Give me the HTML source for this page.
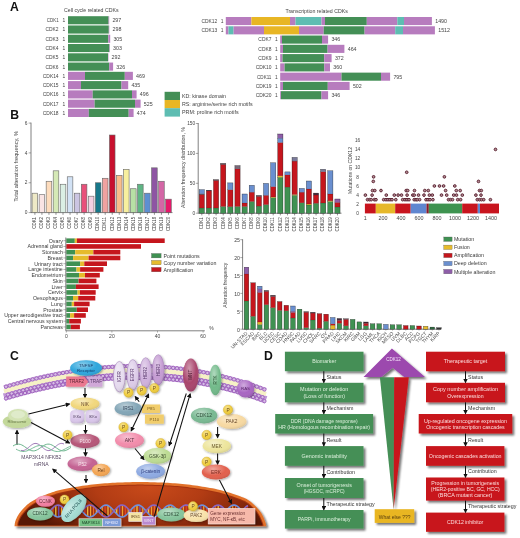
<!DOCTYPE html>
<html><head><meta charset="utf-8"><style>
html,body{margin:0;padding:0;background:#fff;}
svg{display:block;font-family:'Liberation Sans', Arial, sans-serif;}
</style></head><body>
<svg width="520" height="538" viewBox="0 0 520 538">
<rect width="520" height="538" fill="#fff"/>
<text x="10.00" y="11.40" font-size="12.2" text-anchor="start" fill="#111" font-weight="bold">A</text>
<text x="64.00" y="11.90" font-size="5.2" text-anchor="start" fill="#444444" font-weight="normal">Cell cycle related CDKs</text>
<text x="285.40" y="12.90" font-size="5.22" text-anchor="start" fill="#444444" font-weight="normal">Transcription related CDKs</text>
<text x="58.60" y="22.15" font-size="4.9" text-anchor="end" fill="#444444" font-weight="normal" textLength="11.80" lengthAdjust="spacingAndGlyphs">CDK1</text>
<text x="62.50" y="22.15" font-size="4.9" text-anchor="start" fill="#444444" font-weight="normal">1</text>
<rect x="68.00" y="16.20" width="40.60" height="8.10" fill="#448f56"/>
<rect x="108.60" y="16.20" width="0.60" height="8.10" fill="#b77cbe"/>
<text x="112.40" y="22.15" font-size="5.3" text-anchor="start" fill="#444444" font-weight="normal">297</text>
<text x="58.60" y="31.42" font-size="4.9" text-anchor="end" fill="#444444" font-weight="normal">CDK2</text>
<text x="62.50" y="31.42" font-size="4.9" text-anchor="start" fill="#444444" font-weight="normal">1</text>
<rect x="68.00" y="25.47" width="40.80" height="8.10" fill="#448f56"/>
<rect x="108.80" y="25.47" width="0.50" height="8.10" fill="#b77cbe"/>
<text x="112.50" y="31.42" font-size="5.3" text-anchor="start" fill="#444444" font-weight="normal">298</text>
<text x="58.60" y="40.69" font-size="4.9" text-anchor="end" fill="#444444" font-weight="normal">CDK3</text>
<text x="62.50" y="40.69" font-size="4.9" text-anchor="start" fill="#444444" font-weight="normal">1</text>
<rect x="68.00" y="34.74" width="40.30" height="8.10" fill="#448f56"/>
<rect x="108.30" y="34.74" width="1.90" height="8.10" fill="#b77cbe"/>
<text x="113.40" y="40.69" font-size="5.3" text-anchor="start" fill="#444444" font-weight="normal">305</text>
<text x="58.60" y="49.96" font-size="4.9" text-anchor="end" fill="#444444" font-weight="normal">CDK4</text>
<text x="62.50" y="49.96" font-size="4.9" text-anchor="start" fill="#444444" font-weight="normal">1</text>
<rect x="68.00" y="44.01" width="41.40" height="8.10" fill="#448f56"/>
<rect x="109.40" y="44.01" width="0.50" height="8.10" fill="#b77cbe"/>
<text x="113.10" y="49.96" font-size="5.3" text-anchor="start" fill="#444444" font-weight="normal">303</text>
<text x="58.60" y="59.23" font-size="4.9" text-anchor="end" fill="#444444" font-weight="normal">CDK5</text>
<text x="62.50" y="59.23" font-size="4.9" text-anchor="start" fill="#444444" font-weight="normal">1</text>
<rect x="68.00" y="53.28" width="40.00" height="8.10" fill="#448f56"/>
<rect x="108.00" y="53.28" width="0.40" height="8.10" fill="#b77cbe"/>
<text x="111.60" y="59.23" font-size="5.3" text-anchor="start" fill="#444444" font-weight="normal">292</text>
<text x="58.60" y="68.50" font-size="4.9" text-anchor="end" fill="#444444" font-weight="normal">CDK6</text>
<text x="62.50" y="68.50" font-size="4.9" text-anchor="start" fill="#444444" font-weight="normal">1</text>
<rect x="68.00" y="62.55" width="41.20" height="8.10" fill="#448f56"/>
<rect x="109.20" y="62.55" width="3.90" height="8.10" fill="#b77cbe"/>
<text x="116.30" y="68.50" font-size="5.3" text-anchor="start" fill="#444444" font-weight="normal">326</text>
<text x="58.60" y="77.77" font-size="4.9" text-anchor="end" fill="#444444" font-weight="normal">CDK14</text>
<text x="62.50" y="77.77" font-size="4.9" text-anchor="start" fill="#444444" font-weight="normal">1</text>
<rect x="68.00" y="71.82" width="17.00" height="8.10" fill="#b77cbe"/>
<rect x="85.00" y="71.82" width="39.80" height="8.10" fill="#448f56"/>
<rect x="124.80" y="71.82" width="8.10" height="8.10" fill="#b77cbe"/>
<text x="136.10" y="77.77" font-size="5.3" text-anchor="start" fill="#444444" font-weight="normal">469</text>
<text x="58.60" y="87.04" font-size="4.9" text-anchor="end" fill="#444444" font-weight="normal">CDK15</text>
<text x="62.50" y="87.04" font-size="4.9" text-anchor="start" fill="#444444" font-weight="normal">1</text>
<rect x="68.00" y="81.09" width="13.00" height="8.10" fill="#b77cbe"/>
<rect x="81.00" y="81.09" width="40.50" height="8.10" fill="#448f56"/>
<rect x="121.50" y="81.09" width="6.70" height="8.10" fill="#b77cbe"/>
<text x="131.40" y="87.04" font-size="5.3" text-anchor="start" fill="#444444" font-weight="normal">435</text>
<text x="58.60" y="96.31" font-size="4.9" text-anchor="end" fill="#444444" font-weight="normal">CDK16</text>
<text x="62.50" y="96.31" font-size="4.9" text-anchor="start" fill="#444444" font-weight="normal">1</text>
<rect x="68.00" y="90.36" width="24.70" height="8.10" fill="#b77cbe"/>
<rect x="92.70" y="90.36" width="39.30" height="8.10" fill="#448f56"/>
<rect x="132.00" y="90.36" width="4.60" height="8.10" fill="#b77cbe"/>
<text x="139.80" y="96.31" font-size="5.3" text-anchor="start" fill="#444444" font-weight="normal">496</text>
<text x="58.60" y="105.58" font-size="4.9" text-anchor="end" fill="#444444" font-weight="normal">CDK17</text>
<text x="62.50" y="105.58" font-size="4.9" text-anchor="start" fill="#444444" font-weight="normal">1</text>
<rect x="68.00" y="99.63" width="26.60" height="8.10" fill="#b77cbe"/>
<rect x="94.60" y="99.63" width="40.40" height="8.10" fill="#448f56"/>
<rect x="135.00" y="99.63" width="5.60" height="8.10" fill="#b77cbe"/>
<text x="143.80" y="105.58" font-size="5.3" text-anchor="start" fill="#444444" font-weight="normal">525</text>
<text x="58.60" y="114.85" font-size="4.9" text-anchor="end" fill="#444444" font-weight="normal">CDK18</text>
<text x="62.50" y="114.85" font-size="4.9" text-anchor="start" fill="#444444" font-weight="normal">1</text>
<rect x="68.00" y="108.90" width="20.80" height="8.10" fill="#b77cbe"/>
<rect x="88.80" y="108.90" width="39.90" height="8.10" fill="#448f56"/>
<rect x="128.70" y="108.90" width="4.90" height="8.10" fill="#b77cbe"/>
<text x="136.80" y="114.85" font-size="5.3" text-anchor="start" fill="#444444" font-weight="normal">474</text>
<text x="217.20" y="22.95" font-size="4.9" text-anchor="end" fill="#444444" font-weight="normal">CDK12</text>
<text x="220.80" y="22.95" font-size="4.9" text-anchor="start" fill="#444444" font-weight="normal">1</text>
<rect x="225.80" y="17.00" width="25.60" height="8.10" fill="#b77cbe"/>
<rect x="251.40" y="17.00" width="38.60" height="8.10" fill="#e8b624"/>
<rect x="290.00" y="17.00" width="5.50" height="8.10" fill="#b77cbe"/>
<rect x="295.50" y="17.00" width="26.00" height="8.10" fill="#5ebdb2"/>
<rect x="321.50" y="17.00" width="3.50" height="8.10" fill="#b77cbe"/>
<rect x="325.00" y="17.00" width="41.80" height="8.10" fill="#448f56"/>
<rect x="366.80" y="17.00" width="30.50" height="8.10" fill="#b77cbe"/>
<rect x="397.30" y="17.00" width="6.70" height="8.10" fill="#5ebdb2"/>
<rect x="404.00" y="17.00" width="27.90" height="8.10" fill="#b77cbe"/>
<text x="435.20" y="22.95" font-size="5.3" text-anchor="start" fill="#444444" font-weight="normal">1490</text>
<text x="217.20" y="32.22" font-size="4.9" text-anchor="end" fill="#444444" font-weight="normal">CDK13</text>
<text x="220.80" y="32.22" font-size="4.9" text-anchor="start" fill="#444444" font-weight="normal">1</text>
<rect x="225.80" y="26.27" width="2.70" height="8.10" fill="#b77cbe"/>
<rect x="228.50" y="26.27" width="5.10" height="8.10" fill="#5ebdb2"/>
<rect x="233.60" y="26.27" width="30.40" height="8.10" fill="#b77cbe"/>
<rect x="264.00" y="26.27" width="35.00" height="8.10" fill="#e8b624"/>
<rect x="299.00" y="26.27" width="24.70" height="8.10" fill="#b77cbe"/>
<rect x="323.70" y="26.27" width="40.90" height="8.10" fill="#448f56"/>
<rect x="364.60" y="26.27" width="30.60" height="8.10" fill="#b77cbe"/>
<rect x="395.20" y="26.27" width="7.80" height="8.10" fill="#5ebdb2"/>
<rect x="403.00" y="26.27" width="31.90" height="8.10" fill="#b77cbe"/>
<text x="438.20" y="32.22" font-size="5.3" text-anchor="start" fill="#444444" font-weight="normal">1512</text>
<text x="271.40" y="41.49" font-size="4.9" text-anchor="end" fill="#444444" font-weight="normal">CDK7</text>
<text x="275.00" y="41.49" font-size="4.9" text-anchor="start" fill="#444444" font-weight="normal">1</text>
<rect x="280.20" y="35.54" width="1.80" height="8.10" fill="#b77cbe"/>
<rect x="282.00" y="35.54" width="40.00" height="8.10" fill="#448f56"/>
<rect x="322.00" y="35.54" width="6.10" height="8.10" fill="#b77cbe"/>
<text x="331.40" y="41.49" font-size="5.3" text-anchor="start" fill="#444444" font-weight="normal">346</text>
<text x="271.40" y="50.76" font-size="4.9" text-anchor="end" fill="#444444" font-weight="normal">CDK8</text>
<text x="275.00" y="50.76" font-size="4.9" text-anchor="start" fill="#444444" font-weight="normal">1</text>
<rect x="280.20" y="44.81" width="2.80" height="8.10" fill="#b77cbe"/>
<rect x="283.00" y="44.81" width="44.60" height="8.10" fill="#448f56"/>
<rect x="327.60" y="44.81" width="16.80" height="8.10" fill="#b77cbe"/>
<text x="347.70" y="50.76" font-size="5.3" text-anchor="start" fill="#444444" font-weight="normal">464</text>
<text x="271.40" y="60.03" font-size="4.9" text-anchor="end" fill="#444444" font-weight="normal">CDK9</text>
<text x="275.00" y="60.03" font-size="4.9" text-anchor="start" fill="#444444" font-weight="normal">1</text>
<rect x="280.20" y="54.08" width="2.30" height="8.10" fill="#b77cbe"/>
<rect x="282.50" y="54.08" width="41.70" height="8.10" fill="#448f56"/>
<rect x="324.20" y="54.08" width="7.40" height="8.10" fill="#b77cbe"/>
<text x="334.90" y="60.03" font-size="5.3" text-anchor="start" fill="#444444" font-weight="normal">372</text>
<text x="271.40" y="69.30" font-size="4.9" text-anchor="end" fill="#444444" font-weight="normal">CDK10</text>
<text x="275.00" y="69.30" font-size="4.9" text-anchor="start" fill="#444444" font-weight="normal">1</text>
<rect x="280.20" y="63.35" width="4.40" height="8.10" fill="#b77cbe"/>
<rect x="284.60" y="63.35" width="39.70" height="8.10" fill="#448f56"/>
<rect x="324.30" y="63.35" width="5.70" height="8.10" fill="#b77cbe"/>
<text x="333.30" y="69.30" font-size="5.3" text-anchor="start" fill="#444444" font-weight="normal">360</text>
<text x="271.40" y="78.57" font-size="4.9" text-anchor="end" fill="#444444" font-weight="normal" textLength="14.30" lengthAdjust="spacingAndGlyphs">CDK11</text>
<text x="275.00" y="78.57" font-size="4.9" text-anchor="start" fill="#444444" font-weight="normal">1</text>
<rect x="280.20" y="72.62" width="61.30" height="8.10" fill="#b77cbe"/>
<rect x="341.50" y="72.62" width="39.50" height="8.10" fill="#448f56"/>
<rect x="381.00" y="72.62" width="9.10" height="8.10" fill="#b77cbe"/>
<text x="393.40" y="78.57" font-size="5.3" text-anchor="start" fill="#444444" font-weight="normal">795</text>
<text x="271.40" y="87.84" font-size="4.9" text-anchor="end" fill="#444444" font-weight="normal">CDK19</text>
<text x="275.00" y="87.84" font-size="4.9" text-anchor="start" fill="#444444" font-weight="normal">1</text>
<rect x="280.20" y="81.89" width="2.80" height="8.10" fill="#b77cbe"/>
<rect x="283.00" y="81.89" width="44.80" height="8.10" fill="#448f56"/>
<rect x="327.80" y="81.89" width="21.80" height="8.10" fill="#b77cbe"/>
<text x="352.90" y="87.84" font-size="5.3" text-anchor="start" fill="#444444" font-weight="normal">502</text>
<text x="271.40" y="97.11" font-size="4.9" text-anchor="end" fill="#444444" font-weight="normal">CDK20</text>
<text x="275.00" y="97.11" font-size="4.9" text-anchor="start" fill="#444444" font-weight="normal">1</text>
<rect x="280.20" y="91.16" width="0.80" height="8.10" fill="#b77cbe"/>
<rect x="281.00" y="91.16" width="40.50" height="8.10" fill="#448f56"/>
<rect x="321.50" y="91.16" width="6.60" height="8.10" fill="#b77cbe"/>
<text x="331.40" y="97.11" font-size="5.3" text-anchor="start" fill="#444444" font-weight="normal">346</text>
<rect x="164.60" y="91.80" width="15.40" height="8.20" fill="#448f56"/>
<rect x="164.60" y="100.00" width="15.40" height="8.20" fill="#e8b624"/>
<rect x="164.60" y="108.20" width="15.40" height="8.40" fill="#5ebdb2"/>
<text x="182.00" y="97.50" font-size="5.24" text-anchor="start" fill="#444444" font-weight="normal">KD: kinase domain</text>
<text x="182.00" y="106.40" font-size="5.3" text-anchor="start" fill="#444444" font-weight="normal">RS: arginine/serine rich motifs</text>
<text x="182.00" y="114.40" font-size="5.33" text-anchor="start" fill="#444444" font-weight="normal">PRM: proline rich motifs</text>
<text x="10.20" y="118.60" font-size="12.2" text-anchor="start" fill="#111" font-weight="bold">B</text>
<line x1="31.00" y1="122.60" x2="31.00" y2="212.90" stroke="#555" stroke-width="0.75"/>
<line x1="31.00" y1="212.60" x2="172.50" y2="212.60" stroke="#555" stroke-width="0.75"/>
<line x1="28.60" y1="212.60" x2="31.00" y2="212.60" stroke="#555" stroke-width="0.5"/>
<text x="27.30" y="214.30" font-size="4.8" text-anchor="end" fill="#444444" font-weight="normal">0</text>
<line x1="28.60" y1="182.76" x2="31.00" y2="182.76" stroke="#555" stroke-width="0.5"/>
<text x="27.30" y="184.46" font-size="4.8" text-anchor="end" fill="#444444" font-weight="normal">2</text>
<line x1="28.60" y1="152.92" x2="31.00" y2="152.92" stroke="#555" stroke-width="0.5"/>
<text x="27.30" y="154.62" font-size="4.8" text-anchor="end" fill="#444444" font-weight="normal">4</text>
<line x1="28.60" y1="123.08" x2="31.00" y2="123.08" stroke="#555" stroke-width="0.5"/>
<text x="27.30" y="124.78" font-size="4.8" text-anchor="end" fill="#444444" font-weight="normal">6</text>
<text x="17.60" y="166.30" font-size="5.5" text-anchor="middle" fill="#444444" font-weight="normal" transform="rotate(-90 17.60 166.30)" textLength="70.90" lengthAdjust="spacingAndGlyphs">Total alteration frequency, %</text>
<rect x="32.10" y="193.20" width="5.60" height="19.40" fill="#eee9c6" stroke="#666" stroke-width="0.6"/>
<line x1="34.90" y1="212.60" x2="34.90" y2="214.80" stroke="#444" stroke-width="0.6"/>
<text x="36.20" y="216.90" font-size="5.2" text-anchor="end" fill="#444444" font-weight="normal" transform="rotate(-90 36.20 216.90)" textLength="11.90" lengthAdjust="spacingAndGlyphs">CDK1</text>
<rect x="39.13" y="194.70" width="5.60" height="17.90" fill="#f9e4e4" stroke="#666" stroke-width="0.6"/>
<line x1="41.93" y1="212.60" x2="41.93" y2="214.80" stroke="#444" stroke-width="0.6"/>
<text x="43.23" y="216.90" font-size="5.2" text-anchor="end" fill="#444444" font-weight="normal" transform="rotate(-90 43.23 216.90)" textLength="11.90" lengthAdjust="spacingAndGlyphs">CDK2</text>
<rect x="46.16" y="181.27" width="5.60" height="31.33" fill="#fddcbd" stroke="#666" stroke-width="0.6"/>
<line x1="48.96" y1="212.60" x2="48.96" y2="214.80" stroke="#444" stroke-width="0.6"/>
<text x="50.26" y="216.90" font-size="5.2" text-anchor="end" fill="#444444" font-weight="normal" transform="rotate(-90 50.26 216.90)" textLength="11.90" lengthAdjust="spacingAndGlyphs">CDK3</text>
<rect x="53.19" y="170.82" width="5.60" height="41.78" fill="#d5e9b6" stroke="#666" stroke-width="0.6"/>
<line x1="55.99" y1="212.60" x2="55.99" y2="214.80" stroke="#444" stroke-width="0.6"/>
<text x="57.29" y="216.90" font-size="5.2" text-anchor="end" fill="#444444" font-weight="normal" transform="rotate(-90 57.29 216.90)" textLength="11.90" lengthAdjust="spacingAndGlyphs">CDK4</text>
<rect x="60.22" y="184.25" width="5.60" height="28.35" fill="#dbefe4" stroke="#666" stroke-width="0.6"/>
<line x1="63.02" y1="212.60" x2="63.02" y2="214.80" stroke="#444" stroke-width="0.6"/>
<text x="64.32" y="216.90" font-size="5.2" text-anchor="end" fill="#444444" font-weight="normal" transform="rotate(-90 64.32 216.90)" textLength="11.90" lengthAdjust="spacingAndGlyphs">CDK5</text>
<rect x="67.25" y="176.79" width="5.60" height="35.81" fill="#d2e2f5" stroke="#666" stroke-width="0.6"/>
<line x1="70.05" y1="212.60" x2="70.05" y2="214.80" stroke="#444" stroke-width="0.6"/>
<text x="71.35" y="216.90" font-size="5.2" text-anchor="end" fill="#444444" font-weight="normal" transform="rotate(-90 71.35 216.90)" textLength="11.90" lengthAdjust="spacingAndGlyphs">CDK6</text>
<rect x="74.28" y="193.20" width="5.60" height="19.40" fill="#cbc5e2" stroke="#666" stroke-width="0.6"/>
<line x1="77.08" y1="212.60" x2="77.08" y2="214.80" stroke="#444" stroke-width="0.6"/>
<text x="78.38" y="216.90" font-size="5.2" text-anchor="end" fill="#444444" font-weight="normal" transform="rotate(-90 78.38 216.90)" textLength="11.90" lengthAdjust="spacingAndGlyphs">CDK7</text>
<rect x="81.31" y="184.25" width="5.60" height="28.35" fill="#e8507a" stroke="#666" stroke-width="0.6"/>
<line x1="84.11" y1="212.60" x2="84.11" y2="214.80" stroke="#444" stroke-width="0.6"/>
<text x="85.41" y="216.90" font-size="5.2" text-anchor="end" fill="#444444" font-weight="normal" transform="rotate(-90 85.41 216.90)" textLength="11.90" lengthAdjust="spacingAndGlyphs">CDK8</text>
<rect x="88.34" y="196.19" width="5.60" height="16.41" fill="#f3cfe1" stroke="#666" stroke-width="0.6"/>
<line x1="91.14" y1="212.60" x2="91.14" y2="214.80" stroke="#444" stroke-width="0.6"/>
<text x="92.44" y="216.90" font-size="5.2" text-anchor="end" fill="#444444" font-weight="normal" transform="rotate(-90 92.44 216.90)" textLength="11.90" lengthAdjust="spacingAndGlyphs">CDK9</text>
<rect x="95.37" y="182.76" width="5.60" height="29.84" fill="#17788a" stroke="#666" stroke-width="0.6"/>
<line x1="98.17" y1="212.60" x2="98.17" y2="214.80" stroke="#444" stroke-width="0.6"/>
<text x="99.47" y="216.90" font-size="5.2" text-anchor="end" fill="#444444" font-weight="normal" transform="rotate(-90 99.47 216.90)" textLength="14.20" lengthAdjust="spacingAndGlyphs">CDK10</text>
<rect x="102.40" y="178.28" width="5.60" height="34.32" fill="#f0a2a0" stroke="#666" stroke-width="0.6"/>
<line x1="105.20" y1="212.60" x2="105.20" y2="214.80" stroke="#444" stroke-width="0.6"/>
<text x="106.50" y="216.90" font-size="5.2" text-anchor="end" fill="#444444" font-weight="normal" transform="rotate(-90 106.50 216.90)" textLength="14.20" lengthAdjust="spacingAndGlyphs">CDK11</text>
<rect x="109.43" y="135.02" width="5.60" height="77.58" fill="#c8102e" stroke="#666" stroke-width="0.6"/>
<line x1="112.23" y1="212.60" x2="112.23" y2="214.80" stroke="#444" stroke-width="0.6"/>
<text x="113.53" y="216.90" font-size="5.2" text-anchor="end" fill="#444444" font-weight="normal" transform="rotate(-90 113.53 216.90)" textLength="14.20" lengthAdjust="spacingAndGlyphs">CDK12</text>
<rect x="116.46" y="175.30" width="5.60" height="37.30" fill="#f9be8a" stroke="#666" stroke-width="0.6"/>
<line x1="119.26" y1="212.60" x2="119.26" y2="214.80" stroke="#444" stroke-width="0.6"/>
<text x="120.56" y="216.90" font-size="5.2" text-anchor="end" fill="#444444" font-weight="normal" transform="rotate(-90 120.56 216.90)" textLength="14.20" lengthAdjust="spacingAndGlyphs">CDK13</text>
<rect x="123.49" y="169.33" width="5.60" height="43.27" fill="#f7ef9e" stroke="#666" stroke-width="0.6"/>
<line x1="126.29" y1="212.60" x2="126.29" y2="214.80" stroke="#444" stroke-width="0.6"/>
<text x="127.59" y="216.90" font-size="5.2" text-anchor="end" fill="#444444" font-weight="normal" transform="rotate(-90 127.59 216.90)" textLength="14.20" lengthAdjust="spacingAndGlyphs">CDK14</text>
<rect x="130.52" y="188.73" width="5.60" height="23.87" fill="#b7e0a5" stroke="#666" stroke-width="0.6"/>
<line x1="133.32" y1="212.60" x2="133.32" y2="214.80" stroke="#444" stroke-width="0.6"/>
<text x="134.62" y="216.90" font-size="5.2" text-anchor="end" fill="#444444" font-weight="normal" transform="rotate(-90 134.62 216.90)" textLength="14.20" lengthAdjust="spacingAndGlyphs">CDK15</text>
<rect x="137.55" y="184.25" width="5.60" height="28.35" fill="#5fb585" stroke="#666" stroke-width="0.6"/>
<line x1="140.35" y1="212.60" x2="140.35" y2="214.80" stroke="#444" stroke-width="0.6"/>
<text x="141.65" y="216.90" font-size="5.2" text-anchor="end" fill="#444444" font-weight="normal" transform="rotate(-90 141.65 216.90)" textLength="14.20" lengthAdjust="spacingAndGlyphs">CDK16</text>
<rect x="144.58" y="193.20" width="5.60" height="19.40" fill="#5d8fd1" stroke="#666" stroke-width="0.6"/>
<line x1="147.38" y1="212.60" x2="147.38" y2="214.80" stroke="#444" stroke-width="0.6"/>
<text x="148.68" y="216.90" font-size="5.2" text-anchor="end" fill="#444444" font-weight="normal" transform="rotate(-90 148.68 216.90)" textLength="14.20" lengthAdjust="spacingAndGlyphs">CDK17</text>
<rect x="151.61" y="167.84" width="5.60" height="44.76" fill="#8e55a3" stroke="#666" stroke-width="0.6"/>
<line x1="154.41" y1="212.60" x2="154.41" y2="214.80" stroke="#444" stroke-width="0.6"/>
<text x="155.71" y="216.90" font-size="5.2" text-anchor="end" fill="#444444" font-weight="normal" transform="rotate(-90 155.71 216.90)" textLength="14.20" lengthAdjust="spacingAndGlyphs">CDK18</text>
<rect x="158.64" y="181.27" width="5.60" height="31.33" fill="#d466a6" stroke="#666" stroke-width="0.6"/>
<line x1="161.44" y1="212.60" x2="161.44" y2="214.80" stroke="#444" stroke-width="0.6"/>
<text x="162.74" y="216.90" font-size="5.2" text-anchor="end" fill="#444444" font-weight="normal" transform="rotate(-90 162.74 216.90)" textLength="14.20" lengthAdjust="spacingAndGlyphs">CDK19</text>
<rect x="165.67" y="199.17" width="5.60" height="13.43" fill="#e6186a" stroke="#666" stroke-width="0.6"/>
<line x1="168.47" y1="212.60" x2="168.47" y2="214.80" stroke="#444" stroke-width="0.6"/>
<text x="169.77" y="216.90" font-size="5.2" text-anchor="end" fill="#444444" font-weight="normal" transform="rotate(-90 169.77 216.90)" textLength="14.20" lengthAdjust="spacingAndGlyphs">CDK20</text>
<line x1="198.20" y1="123.00" x2="198.20" y2="213.50" stroke="#555" stroke-width="0.75"/>
<line x1="198.20" y1="213.20" x2="341.50" y2="213.20" stroke="#555" stroke-width="0.75"/>
<line x1="195.80" y1="213.20" x2="198.20" y2="213.20" stroke="#555" stroke-width="0.5"/>
<text x="195.20" y="214.90" font-size="4.8" text-anchor="end" fill="#444444" font-weight="normal">0</text>
<line x1="195.80" y1="183.30" x2="198.20" y2="183.30" stroke="#555" stroke-width="0.5"/>
<text x="195.20" y="185.00" font-size="4.8" text-anchor="end" fill="#444444" font-weight="normal">50</text>
<line x1="195.80" y1="153.40" x2="198.20" y2="153.40" stroke="#555" stroke-width="0.5"/>
<text x="195.20" y="155.10" font-size="4.8" text-anchor="end" fill="#444444" font-weight="normal">100</text>
<line x1="195.80" y1="123.50" x2="198.20" y2="123.50" stroke="#555" stroke-width="0.5"/>
<text x="195.20" y="125.20" font-size="4.8" text-anchor="end" fill="#444444" font-weight="normal">150</text>
<text x="185.20" y="167.50" font-size="5.3" text-anchor="middle" fill="#444444" font-weight="normal" transform="rotate(-90 185.20 167.50)" textLength="81.00" lengthAdjust="spacingAndGlyphs">Alteration frequency distribution, %</text>
<rect x="199.20" y="208.00" width="5.20" height="5.20" fill="#3f9152" stroke="rgba(0,0,0,0.35)" stroke-width="0.3"/>
<rect x="199.20" y="194.60" width="5.20" height="13.40" fill="#c5161d" stroke="rgba(0,0,0,0.35)" stroke-width="0.3"/>
<rect x="199.20" y="193.80" width="5.20" height="0.80" fill="#4a2a3a" stroke="rgba(0,0,0,0.35)" stroke-width="0.3"/>
<rect x="199.20" y="189.70" width="5.20" height="4.10" fill="#6a8fcf" stroke="rgba(0,0,0,0.35)" stroke-width="0.3"/>
<rect x="199.20" y="189.70" width="5.20" height="23.50" fill="none" stroke="rgba(0,0,0,0.5)" stroke-width="0.4"/>
<line x1="201.80" y1="213.20" x2="201.80" y2="215.40" stroke="#444" stroke-width="0.6"/>
<text x="203.10" y="217.30" font-size="5.2" text-anchor="end" fill="#444444" font-weight="normal" transform="rotate(-90 203.10 217.30)" textLength="11.90" lengthAdjust="spacingAndGlyphs">CDK1</text>
<rect x="206.34" y="208.00" width="5.20" height="5.20" fill="#3f9152" stroke="rgba(0,0,0,0.35)" stroke-width="0.3"/>
<rect x="206.34" y="190.90" width="5.20" height="17.10" fill="#c5161d" stroke="rgba(0,0,0,0.35)" stroke-width="0.3"/>
<rect x="206.34" y="190.20" width="5.20" height="0.70" fill="#4a2a3a" stroke="rgba(0,0,0,0.35)" stroke-width="0.3"/>
<rect x="206.34" y="190.20" width="5.20" height="23.00" fill="none" stroke="rgba(0,0,0,0.5)" stroke-width="0.4"/>
<line x1="208.94" y1="213.20" x2="208.94" y2="215.40" stroke="#444" stroke-width="0.6"/>
<text x="210.24" y="217.30" font-size="5.2" text-anchor="end" fill="#444444" font-weight="normal" transform="rotate(-90 210.24 217.30)" textLength="11.90" lengthAdjust="spacingAndGlyphs">CDK2</text>
<rect x="213.48" y="208.00" width="5.20" height="5.20" fill="#3f9152" stroke="rgba(0,0,0,0.35)" stroke-width="0.3"/>
<rect x="213.48" y="180.50" width="5.20" height="27.50" fill="#c5161d" stroke="rgba(0,0,0,0.35)" stroke-width="0.3"/>
<rect x="213.48" y="179.70" width="5.20" height="0.80" fill="#4a2a3a" stroke="rgba(0,0,0,0.35)" stroke-width="0.3"/>
<rect x="213.48" y="179.70" width="5.20" height="33.50" fill="none" stroke="rgba(0,0,0,0.5)" stroke-width="0.4"/>
<line x1="216.08" y1="213.20" x2="216.08" y2="215.40" stroke="#444" stroke-width="0.6"/>
<text x="217.38" y="217.30" font-size="5.2" text-anchor="end" fill="#444444" font-weight="normal" transform="rotate(-90 217.38 217.30)" textLength="11.90" lengthAdjust="spacingAndGlyphs">CDK3</text>
<rect x="220.62" y="206.50" width="5.20" height="6.70" fill="#3f9152" stroke="rgba(0,0,0,0.35)" stroke-width="0.3"/>
<rect x="220.62" y="164.50" width="5.20" height="42.00" fill="#c5161d" stroke="rgba(0,0,0,0.35)" stroke-width="0.3"/>
<rect x="220.62" y="163.50" width="5.20" height="1.00" fill="#4a2a3a" stroke="rgba(0,0,0,0.35)" stroke-width="0.3"/>
<rect x="220.62" y="163.50" width="5.20" height="49.70" fill="none" stroke="rgba(0,0,0,0.5)" stroke-width="0.4"/>
<line x1="223.22" y1="213.20" x2="223.22" y2="215.40" stroke="#444" stroke-width="0.6"/>
<text x="224.52" y="217.30" font-size="5.2" text-anchor="end" fill="#444444" font-weight="normal" transform="rotate(-90 224.52 217.30)" textLength="11.90" lengthAdjust="spacingAndGlyphs">CDK4</text>
<rect x="227.76" y="206.70" width="5.20" height="6.50" fill="#3f9152" stroke="rgba(0,0,0,0.35)" stroke-width="0.3"/>
<rect x="227.76" y="189.70" width="5.20" height="17.00" fill="#c5161d" stroke="rgba(0,0,0,0.35)" stroke-width="0.3"/>
<rect x="227.76" y="182.90" width="5.20" height="6.80" fill="#6a8fcf" stroke="rgba(0,0,0,0.35)" stroke-width="0.3"/>
<rect x="227.76" y="182.90" width="5.20" height="30.30" fill="none" stroke="rgba(0,0,0,0.5)" stroke-width="0.4"/>
<line x1="230.36" y1="213.20" x2="230.36" y2="215.40" stroke="#444" stroke-width="0.6"/>
<text x="231.66" y="217.30" font-size="5.2" text-anchor="end" fill="#444444" font-weight="normal" transform="rotate(-90 231.66 217.30)" textLength="11.90" lengthAdjust="spacingAndGlyphs">CDK5</text>
<rect x="234.90" y="206.50" width="5.20" height="6.70" fill="#3f9152" stroke="rgba(0,0,0,0.35)" stroke-width="0.3"/>
<rect x="234.90" y="168.90" width="5.20" height="37.60" fill="#c5161d" stroke="rgba(0,0,0,0.35)" stroke-width="0.3"/>
<rect x="234.90" y="165.60" width="5.20" height="3.30" fill="#7a6a7a" stroke="rgba(0,0,0,0.35)" stroke-width="0.3"/>
<rect x="234.90" y="165.60" width="5.20" height="47.60" fill="none" stroke="rgba(0,0,0,0.5)" stroke-width="0.4"/>
<line x1="237.50" y1="213.20" x2="237.50" y2="215.40" stroke="#444" stroke-width="0.6"/>
<text x="238.80" y="217.30" font-size="5.2" text-anchor="end" fill="#444444" font-weight="normal" transform="rotate(-90 238.80 217.30)" textLength="11.90" lengthAdjust="spacingAndGlyphs">CDK6</text>
<rect x="242.04" y="206.50" width="5.20" height="6.70" fill="#3f9152" stroke="rgba(0,0,0,0.35)" stroke-width="0.3"/>
<rect x="242.04" y="203.00" width="5.20" height="3.50" fill="#c5161d" stroke="rgba(0,0,0,0.35)" stroke-width="0.3"/>
<rect x="242.04" y="194.00" width="5.20" height="9.00" fill="#6a8fcf" stroke="rgba(0,0,0,0.35)" stroke-width="0.3"/>
<rect x="242.04" y="194.00" width="5.20" height="19.20" fill="none" stroke="rgba(0,0,0,0.5)" stroke-width="0.4"/>
<line x1="244.64" y1="213.20" x2="244.64" y2="215.40" stroke="#444" stroke-width="0.6"/>
<text x="245.94" y="217.30" font-size="5.2" text-anchor="end" fill="#444444" font-weight="normal" transform="rotate(-90 245.94 217.30)" textLength="11.90" lengthAdjust="spacingAndGlyphs">CDK7</text>
<rect x="249.18" y="201.50" width="5.20" height="11.70" fill="#3f9152" stroke="rgba(0,0,0,0.35)" stroke-width="0.3"/>
<rect x="249.18" y="192.20" width="5.20" height="9.30" fill="#c5161d" stroke="rgba(0,0,0,0.35)" stroke-width="0.3"/>
<rect x="249.18" y="185.30" width="5.20" height="6.90" fill="#6a8fcf" stroke="rgba(0,0,0,0.35)" stroke-width="0.3"/>
<rect x="249.18" y="185.30" width="5.20" height="27.90" fill="none" stroke="rgba(0,0,0,0.5)" stroke-width="0.4"/>
<line x1="251.78" y1="213.20" x2="251.78" y2="215.40" stroke="#444" stroke-width="0.6"/>
<text x="253.08" y="217.30" font-size="5.2" text-anchor="end" fill="#444444" font-weight="normal" transform="rotate(-90 253.08 217.30)" textLength="11.90" lengthAdjust="spacingAndGlyphs">CDK8</text>
<rect x="256.32" y="206.10" width="5.20" height="7.10" fill="#3f9152" stroke="rgba(0,0,0,0.35)" stroke-width="0.3"/>
<rect x="256.32" y="196.40" width="5.20" height="9.70" fill="#c5161d" stroke="rgba(0,0,0,0.35)" stroke-width="0.3"/>
<rect x="256.32" y="195.50" width="5.20" height="0.90" fill="#4a2a3a" stroke="rgba(0,0,0,0.35)" stroke-width="0.3"/>
<rect x="256.32" y="195.50" width="5.20" height="17.70" fill="none" stroke="rgba(0,0,0,0.5)" stroke-width="0.4"/>
<line x1="258.92" y1="213.20" x2="258.92" y2="215.40" stroke="#444" stroke-width="0.6"/>
<text x="260.22" y="217.30" font-size="5.2" text-anchor="end" fill="#444444" font-weight="normal" transform="rotate(-90 260.22 217.30)" textLength="11.90" lengthAdjust="spacingAndGlyphs">CDK9</text>
<rect x="263.46" y="204.60" width="5.20" height="8.60" fill="#3f9152" stroke="rgba(0,0,0,0.35)" stroke-width="0.3"/>
<rect x="263.46" y="195.30" width="5.20" height="9.30" fill="#c5161d" stroke="rgba(0,0,0,0.35)" stroke-width="0.3"/>
<rect x="263.46" y="183.40" width="5.20" height="11.90" fill="#6a8fcf" stroke="rgba(0,0,0,0.35)" stroke-width="0.3"/>
<rect x="263.46" y="183.40" width="5.20" height="29.80" fill="none" stroke="rgba(0,0,0,0.5)" stroke-width="0.4"/>
<line x1="266.06" y1="213.20" x2="266.06" y2="215.40" stroke="#444" stroke-width="0.6"/>
<text x="267.36" y="217.30" font-size="5.2" text-anchor="end" fill="#444444" font-weight="normal" transform="rotate(-90 267.36 217.30)" textLength="14.20" lengthAdjust="spacingAndGlyphs">CDK10</text>
<rect x="270.60" y="197.70" width="5.20" height="15.50" fill="#3f9152" stroke="rgba(0,0,0,0.35)" stroke-width="0.3"/>
<rect x="270.60" y="197.00" width="5.20" height="0.70" fill="#e6bb2c" stroke="rgba(0,0,0,0.35)" stroke-width="0.3"/>
<rect x="270.60" y="186.60" width="5.20" height="10.40" fill="#c5161d" stroke="rgba(0,0,0,0.35)" stroke-width="0.3"/>
<rect x="270.60" y="162.80" width="5.20" height="23.80" fill="#6a8fcf" stroke="rgba(0,0,0,0.35)" stroke-width="0.3"/>
<rect x="270.60" y="162.80" width="5.20" height="50.40" fill="none" stroke="rgba(0,0,0,0.5)" stroke-width="0.4"/>
<line x1="273.20" y1="213.20" x2="273.20" y2="215.40" stroke="#444" stroke-width="0.6"/>
<text x="274.50" y="217.30" font-size="5.2" text-anchor="end" fill="#444444" font-weight="normal" transform="rotate(-90 274.50 217.30)" textLength="14.20" lengthAdjust="spacingAndGlyphs">CDK11</text>
<rect x="277.74" y="177.30" width="5.20" height="35.90" fill="#3f9152" stroke="rgba(0,0,0,0.35)" stroke-width="0.3"/>
<rect x="277.74" y="175.80" width="5.20" height="1.50" fill="#e6bb2c" stroke="rgba(0,0,0,0.35)" stroke-width="0.3"/>
<rect x="277.74" y="142.50" width="5.20" height="33.30" fill="#c5161d" stroke="rgba(0,0,0,0.35)" stroke-width="0.3"/>
<rect x="277.74" y="138.20" width="5.20" height="4.30" fill="#6a8fcf" stroke="rgba(0,0,0,0.35)" stroke-width="0.3"/>
<rect x="277.74" y="134.00" width="5.20" height="4.20" fill="#8e5ea8" stroke="rgba(0,0,0,0.35)" stroke-width="0.3"/>
<rect x="277.74" y="134.00" width="5.20" height="79.20" fill="none" stroke="rgba(0,0,0,0.5)" stroke-width="0.4"/>
<line x1="280.34" y1="213.20" x2="280.34" y2="215.40" stroke="#444" stroke-width="0.6"/>
<text x="281.64" y="217.30" font-size="5.2" text-anchor="end" fill="#444444" font-weight="normal" transform="rotate(-90 281.64 217.30)" textLength="14.20" lengthAdjust="spacingAndGlyphs">CDK12</text>
<rect x="284.88" y="187.10" width="5.20" height="26.10" fill="#3f9152" stroke="rgba(0,0,0,0.35)" stroke-width="0.3"/>
<rect x="284.88" y="174.90" width="5.20" height="12.20" fill="#c5161d" stroke="rgba(0,0,0,0.35)" stroke-width="0.3"/>
<rect x="284.88" y="171.90" width="5.20" height="3.00" fill="#6a8fcf" stroke="rgba(0,0,0,0.35)" stroke-width="0.3"/>
<rect x="284.88" y="171.90" width="5.20" height="41.30" fill="none" stroke="rgba(0,0,0,0.5)" stroke-width="0.4"/>
<line x1="287.48" y1="213.20" x2="287.48" y2="215.40" stroke="#444" stroke-width="0.6"/>
<text x="288.78" y="217.30" font-size="5.2" text-anchor="end" fill="#444444" font-weight="normal" transform="rotate(-90 288.78 217.30)" textLength="14.20" lengthAdjust="spacingAndGlyphs">CDK13</text>
<rect x="292.02" y="195.30" width="5.20" height="17.90" fill="#3f9152" stroke="rgba(0,0,0,0.35)" stroke-width="0.3"/>
<rect x="292.02" y="194.50" width="5.20" height="0.80" fill="#e6bb2c" stroke="rgba(0,0,0,0.35)" stroke-width="0.3"/>
<rect x="292.02" y="161.10" width="5.20" height="33.40" fill="#c5161d" stroke="rgba(0,0,0,0.35)" stroke-width="0.3"/>
<rect x="292.02" y="157.40" width="5.20" height="3.70" fill="#7a7a9a" stroke="rgba(0,0,0,0.35)" stroke-width="0.3"/>
<rect x="292.02" y="157.40" width="5.20" height="55.80" fill="none" stroke="rgba(0,0,0,0.5)" stroke-width="0.4"/>
<line x1="294.62" y1="213.20" x2="294.62" y2="215.40" stroke="#444" stroke-width="0.6"/>
<text x="295.92" y="217.30" font-size="5.2" text-anchor="end" fill="#444444" font-weight="normal" transform="rotate(-90 295.92 217.30)" textLength="14.20" lengthAdjust="spacingAndGlyphs">CDK14</text>
<rect x="299.16" y="202.80" width="5.20" height="10.40" fill="#3f9152" stroke="rgba(0,0,0,0.35)" stroke-width="0.3"/>
<rect x="299.16" y="192.20" width="5.20" height="10.60" fill="#c5161d" stroke="rgba(0,0,0,0.35)" stroke-width="0.3"/>
<rect x="299.16" y="188.40" width="5.20" height="3.80" fill="#6a8fcf" stroke="rgba(0,0,0,0.35)" stroke-width="0.3"/>
<rect x="299.16" y="188.40" width="5.20" height="24.80" fill="none" stroke="rgba(0,0,0,0.5)" stroke-width="0.4"/>
<line x1="301.76" y1="213.20" x2="301.76" y2="215.40" stroke="#444" stroke-width="0.6"/>
<text x="303.06" y="217.30" font-size="5.2" text-anchor="end" fill="#444444" font-weight="normal" transform="rotate(-90 303.06 217.30)" textLength="14.20" lengthAdjust="spacingAndGlyphs">CDK15</text>
<rect x="306.30" y="205.00" width="5.20" height="8.20" fill="#3f9152" stroke="rgba(0,0,0,0.35)" stroke-width="0.3"/>
<rect x="306.30" y="204.00" width="5.20" height="1.00" fill="#e6bb2c" stroke="rgba(0,0,0,0.35)" stroke-width="0.3"/>
<rect x="306.30" y="189.00" width="5.20" height="15.00" fill="#c5161d" stroke="rgba(0,0,0,0.35)" stroke-width="0.3"/>
<rect x="306.30" y="181.00" width="5.20" height="8.00" fill="#6a8fcf" stroke="rgba(0,0,0,0.35)" stroke-width="0.3"/>
<rect x="306.30" y="181.00" width="5.20" height="32.20" fill="none" stroke="rgba(0,0,0,0.5)" stroke-width="0.4"/>
<line x1="308.90" y1="213.20" x2="308.90" y2="215.40" stroke="#444" stroke-width="0.6"/>
<text x="310.20" y="217.30" font-size="5.2" text-anchor="end" fill="#444444" font-weight="normal" transform="rotate(-90 310.20 217.30)" textLength="14.20" lengthAdjust="spacingAndGlyphs">CDK16</text>
<rect x="313.44" y="203.30" width="5.20" height="9.90" fill="#3f9152" stroke="rgba(0,0,0,0.35)" stroke-width="0.3"/>
<rect x="313.44" y="195.00" width="5.20" height="8.30" fill="#c5161d" stroke="rgba(0,0,0,0.35)" stroke-width="0.3"/>
<rect x="313.44" y="193.10" width="5.20" height="1.90" fill="#4a2a3a" stroke="rgba(0,0,0,0.35)" stroke-width="0.3"/>
<rect x="313.44" y="193.10" width="5.20" height="20.10" fill="none" stroke="rgba(0,0,0,0.5)" stroke-width="0.4"/>
<line x1="316.04" y1="213.20" x2="316.04" y2="215.40" stroke="#444" stroke-width="0.6"/>
<text x="317.34" y="217.30" font-size="5.2" text-anchor="end" fill="#444444" font-weight="normal" transform="rotate(-90 317.34 217.30)" textLength="14.20" lengthAdjust="spacingAndGlyphs">CDK17</text>
<rect x="320.58" y="203.00" width="5.20" height="10.20" fill="#3f9152" stroke="rgba(0,0,0,0.35)" stroke-width="0.3"/>
<rect x="320.58" y="171.70" width="5.20" height="31.30" fill="#c5161d" stroke="rgba(0,0,0,0.35)" stroke-width="0.3"/>
<rect x="320.58" y="169.30" width="5.20" height="2.40" fill="#7a7a9a" stroke="rgba(0,0,0,0.35)" stroke-width="0.3"/>
<rect x="320.58" y="169.30" width="5.20" height="43.90" fill="none" stroke="rgba(0,0,0,0.5)" stroke-width="0.4"/>
<line x1="323.18" y1="213.20" x2="323.18" y2="215.40" stroke="#444" stroke-width="0.6"/>
<text x="324.48" y="217.30" font-size="5.2" text-anchor="end" fill="#444444" font-weight="normal" transform="rotate(-90 324.48 217.30)" textLength="14.20" lengthAdjust="spacingAndGlyphs">CDK18</text>
<rect x="327.72" y="201.50" width="5.20" height="11.70" fill="#3f9152" stroke="rgba(0,0,0,0.35)" stroke-width="0.3"/>
<rect x="327.72" y="200.80" width="5.20" height="0.70" fill="#e6bb2c" stroke="rgba(0,0,0,0.35)" stroke-width="0.3"/>
<rect x="327.72" y="194.00" width="5.20" height="6.80" fill="#c5161d" stroke="rgba(0,0,0,0.35)" stroke-width="0.3"/>
<rect x="327.72" y="170.80" width="5.20" height="23.20" fill="#6a8fcf" stroke="rgba(0,0,0,0.35)" stroke-width="0.3"/>
<rect x="327.72" y="170.80" width="5.20" height="42.40" fill="none" stroke="rgba(0,0,0,0.5)" stroke-width="0.4"/>
<line x1="330.32" y1="213.20" x2="330.32" y2="215.40" stroke="#444" stroke-width="0.6"/>
<text x="331.62" y="217.30" font-size="5.2" text-anchor="end" fill="#444444" font-weight="normal" transform="rotate(-90 331.62 217.30)" textLength="14.20" lengthAdjust="spacingAndGlyphs">CDK19</text>
<rect x="334.86" y="207.00" width="5.20" height="6.20" fill="#3f9152" stroke="rgba(0,0,0,0.35)" stroke-width="0.3"/>
<rect x="334.86" y="202.40" width="5.20" height="4.60" fill="#c5161d" stroke="rgba(0,0,0,0.35)" stroke-width="0.3"/>
<rect x="334.86" y="199.00" width="5.20" height="3.40" fill="#8e5ea8" stroke="rgba(0,0,0,0.35)" stroke-width="0.3"/>
<rect x="334.86" y="199.00" width="5.20" height="14.20" fill="none" stroke="rgba(0,0,0,0.5)" stroke-width="0.4"/>
<line x1="337.46" y1="213.20" x2="337.46" y2="215.40" stroke="#444" stroke-width="0.6"/>
<text x="338.76" y="217.30" font-size="5.2" text-anchor="end" fill="#444444" font-weight="normal" transform="rotate(-90 338.76 217.30)" textLength="14.20" lengthAdjust="spacingAndGlyphs">CDK20</text>
<text x="357.60" y="215.10" font-size="4.8" text-anchor="middle" fill="#444444" font-weight="normal">0</text>
<text x="357.60" y="205.96" font-size="4.8" text-anchor="middle" fill="#444444" font-weight="normal">2</text>
<text x="357.60" y="196.82" font-size="4.8" text-anchor="middle" fill="#444444" font-weight="normal">4</text>
<text x="357.60" y="187.68" font-size="4.8" text-anchor="middle" fill="#444444" font-weight="normal">6</text>
<text x="357.60" y="178.54" font-size="4.8" text-anchor="middle" fill="#444444" font-weight="normal">8</text>
<text x="357.60" y="169.40" font-size="4.8" text-anchor="middle" fill="#444444" font-weight="normal">10</text>
<text x="357.60" y="160.26" font-size="4.8" text-anchor="middle" fill="#444444" font-weight="normal">12</text>
<text x="357.60" y="151.12" font-size="4.8" text-anchor="middle" fill="#444444" font-weight="normal">14</text>
<text x="357.60" y="141.98" font-size="4.8" text-anchor="middle" fill="#444444" font-weight="normal">16</text>
<text x="352.00" y="170.50" font-size="5.2" text-anchor="middle" fill="#444444" font-weight="normal" transform="rotate(-90 352.00 170.50)" textLength="47.00" lengthAdjust="spacingAndGlyphs">Mutations on CDK12</text>
<rect x="364.90" y="203.60" width="10.90" height="9.80" fill="#c8141e"/>
<rect x="375.80" y="203.60" width="19.40" height="9.80" fill="#e6b82a"/>
<rect x="395.20" y="203.60" width="15.50" height="9.80" fill="#c8141e"/>
<rect x="410.70" y="203.60" width="15.80" height="9.80" fill="#5f86d0"/>
<rect x="426.50" y="203.60" width="2.30" height="9.80" fill="#8a1a2a"/>
<rect x="428.80" y="203.60" width="33.40" height="9.80" fill="#3e9350"/>
<rect x="462.20" y="203.60" width="15.60" height="9.80" fill="#c8141e"/>
<rect x="477.80" y="203.60" width="2.20" height="9.80" fill="#5f86d0"/>
<rect x="480.00" y="203.60" width="19.00" height="9.80" fill="#c8141e"/>
<text x="365.20" y="219.90" font-size="5.4" text-anchor="middle" fill="#444444" font-weight="normal">1</text>
<text x="382.90" y="219.90" font-size="5.4" text-anchor="middle" fill="#444444" font-weight="normal">200</text>
<text x="400.90" y="219.90" font-size="5.4" text-anchor="middle" fill="#444444" font-weight="normal">400</text>
<text x="418.90" y="219.90" font-size="5.4" text-anchor="middle" fill="#444444" font-weight="normal">600</text>
<text x="436.90" y="219.90" font-size="5.4" text-anchor="middle" fill="#444444" font-weight="normal">800</text>
<text x="454.90" y="219.90" font-size="5.4" text-anchor="middle" fill="#444444" font-weight="normal">1000</text>
<text x="472.90" y="219.90" font-size="5.4" text-anchor="middle" fill="#444444" font-weight="normal">1200</text>
<text x="490.90" y="219.90" font-size="5.4" text-anchor="middle" fill="#444444" font-weight="normal">1400</text>
<circle cx="495.50" cy="149.42" r="1.35" fill="#b48c94" stroke="#5a2230" stroke-width="0.95"/>
<circle cx="406.70" cy="172.27" r="1.35" fill="#b48c94" stroke="#5a2230" stroke-width="0.95"/>
<circle cx="373.60" cy="176.84" r="1.35" fill="#b48c94" stroke="#5a2230" stroke-width="0.95"/>
<circle cx="444.40" cy="176.84" r="1.35" fill="#b48c94" stroke="#5a2230" stroke-width="0.95"/>
<circle cx="373.30" cy="181.41" r="1.35" fill="#b48c94" stroke="#5a2230" stroke-width="0.95"/>
<circle cx="478.50" cy="181.41" r="1.35" fill="#b48c94" stroke="#5a2230" stroke-width="0.95"/>
<circle cx="434.40" cy="185.98" r="1.35" fill="#b48c94" stroke="#5a2230" stroke-width="0.95"/>
<circle cx="439.50" cy="185.98" r="1.35" fill="#b48c94" stroke="#5a2230" stroke-width="0.95"/>
<circle cx="443.60" cy="185.98" r="1.35" fill="#b48c94" stroke="#5a2230" stroke-width="0.95"/>
<circle cx="454.80" cy="185.98" r="1.35" fill="#b48c94" stroke="#5a2230" stroke-width="0.95"/>
<circle cx="372.50" cy="190.55" r="1.35" fill="#b48c94" stroke="#5a2230" stroke-width="0.95"/>
<circle cx="374.80" cy="190.55" r="1.35" fill="#b48c94" stroke="#5a2230" stroke-width="0.95"/>
<circle cx="381.00" cy="190.55" r="1.35" fill="#b48c94" stroke="#5a2230" stroke-width="0.95"/>
<circle cx="406.20" cy="190.55" r="1.35" fill="#b48c94" stroke="#5a2230" stroke-width="0.95"/>
<circle cx="407.70" cy="190.55" r="1.35" fill="#b48c94" stroke="#5a2230" stroke-width="0.95"/>
<circle cx="414.50" cy="190.55" r="1.35" fill="#b48c94" stroke="#5a2230" stroke-width="0.95"/>
<circle cx="424.80" cy="190.55" r="1.35" fill="#b48c94" stroke="#5a2230" stroke-width="0.95"/>
<circle cx="428.30" cy="190.55" r="1.35" fill="#b48c94" stroke="#5a2230" stroke-width="0.95"/>
<circle cx="445.60" cy="190.55" r="1.35" fill="#b48c94" stroke="#5a2230" stroke-width="0.95"/>
<circle cx="456.30" cy="190.55" r="1.35" fill="#b48c94" stroke="#5a2230" stroke-width="0.95"/>
<circle cx="460.20" cy="190.55" r="1.35" fill="#b48c94" stroke="#5a2230" stroke-width="0.95"/>
<circle cx="479.50" cy="190.55" r="1.35" fill="#b48c94" stroke="#5a2230" stroke-width="0.95"/>
<circle cx="481.30" cy="190.55" r="1.35" fill="#b48c94" stroke="#5a2230" stroke-width="0.95"/>
<circle cx="365.40" cy="195.12" r="1.35" fill="#b48c94" stroke="#5a2230" stroke-width="0.95"/>
<circle cx="372.10" cy="195.12" r="1.35" fill="#b48c94" stroke="#5a2230" stroke-width="0.95"/>
<circle cx="386.30" cy="195.12" r="1.35" fill="#b48c94" stroke="#5a2230" stroke-width="0.95"/>
<circle cx="394.30" cy="195.12" r="1.35" fill="#b48c94" stroke="#5a2230" stroke-width="0.95"/>
<circle cx="398.10" cy="195.12" r="1.35" fill="#b48c94" stroke="#5a2230" stroke-width="0.95"/>
<circle cx="401.50" cy="195.12" r="1.35" fill="#b48c94" stroke="#5a2230" stroke-width="0.95"/>
<circle cx="407.10" cy="195.12" r="1.35" fill="#b48c94" stroke="#5a2230" stroke-width="0.95"/>
<circle cx="412.80" cy="195.12" r="1.35" fill="#b48c94" stroke="#5a2230" stroke-width="0.95"/>
<circle cx="414.20" cy="195.12" r="1.35" fill="#b48c94" stroke="#5a2230" stroke-width="0.95"/>
<circle cx="418.50" cy="195.12" r="1.35" fill="#b48c94" stroke="#5a2230" stroke-width="0.95"/>
<circle cx="424.00" cy="195.12" r="1.35" fill="#b48c94" stroke="#5a2230" stroke-width="0.95"/>
<circle cx="429.40" cy="195.12" r="1.35" fill="#b48c94" stroke="#5a2230" stroke-width="0.95"/>
<circle cx="432.30" cy="195.12" r="1.35" fill="#b48c94" stroke="#5a2230" stroke-width="0.95"/>
<circle cx="441.50" cy="195.12" r="1.35" fill="#b48c94" stroke="#5a2230" stroke-width="0.95"/>
<circle cx="446.70" cy="195.12" r="1.35" fill="#b48c94" stroke="#5a2230" stroke-width="0.95"/>
<circle cx="453.70" cy="195.12" r="1.35" fill="#b48c94" stroke="#5a2230" stroke-width="0.95"/>
<circle cx="456.50" cy="195.12" r="1.35" fill="#b48c94" stroke="#5a2230" stroke-width="0.95"/>
<circle cx="462.30" cy="195.12" r="1.35" fill="#b48c94" stroke="#5a2230" stroke-width="0.95"/>
<circle cx="475.90" cy="195.12" r="1.35" fill="#b48c94" stroke="#5a2230" stroke-width="0.95"/>
<circle cx="481.00" cy="195.12" r="1.35" fill="#b48c94" stroke="#5a2230" stroke-width="0.95"/>
<circle cx="367.50" cy="199.69" r="1.35" fill="#b48c94" stroke="#5a2230" stroke-width="0.95"/>
<circle cx="369.50" cy="199.69" r="1.35" fill="#b48c94" stroke="#5a2230" stroke-width="0.95"/>
<circle cx="371.20" cy="199.69" r="1.35" fill="#b48c94" stroke="#5a2230" stroke-width="0.95"/>
<circle cx="374.40" cy="199.69" r="1.35" fill="#b48c94" stroke="#5a2230" stroke-width="0.95"/>
<circle cx="376.00" cy="199.69" r="1.35" fill="#b48c94" stroke="#5a2230" stroke-width="0.95"/>
<circle cx="383.70" cy="199.69" r="1.35" fill="#b48c94" stroke="#5a2230" stroke-width="0.95"/>
<circle cx="386.00" cy="199.69" r="1.35" fill="#b48c94" stroke="#5a2230" stroke-width="0.95"/>
<circle cx="388.00" cy="199.69" r="1.35" fill="#b48c94" stroke="#5a2230" stroke-width="0.95"/>
<circle cx="390.00" cy="199.69" r="1.35" fill="#b48c94" stroke="#5a2230" stroke-width="0.95"/>
<circle cx="392.00" cy="199.69" r="1.35" fill="#b48c94" stroke="#5a2230" stroke-width="0.95"/>
<circle cx="395.80" cy="199.69" r="1.35" fill="#b48c94" stroke="#5a2230" stroke-width="0.95"/>
<circle cx="402.70" cy="199.69" r="1.35" fill="#b48c94" stroke="#5a2230" stroke-width="0.95"/>
<circle cx="405.00" cy="199.69" r="1.35" fill="#b48c94" stroke="#5a2230" stroke-width="0.95"/>
<circle cx="407.00" cy="199.69" r="1.35" fill="#b48c94" stroke="#5a2230" stroke-width="0.95"/>
<circle cx="409.00" cy="199.69" r="1.35" fill="#b48c94" stroke="#5a2230" stroke-width="0.95"/>
<circle cx="414.20" cy="199.69" r="1.35" fill="#b48c94" stroke="#5a2230" stroke-width="0.95"/>
<circle cx="416.00" cy="199.69" r="1.35" fill="#b48c94" stroke="#5a2230" stroke-width="0.95"/>
<circle cx="417.30" cy="199.69" r="1.35" fill="#b48c94" stroke="#5a2230" stroke-width="0.95"/>
<circle cx="419.60" cy="199.69" r="1.35" fill="#b48c94" stroke="#5a2230" stroke-width="0.95"/>
<circle cx="426.00" cy="199.69" r="1.35" fill="#b48c94" stroke="#5a2230" stroke-width="0.95"/>
<circle cx="428.00" cy="199.69" r="1.35" fill="#b48c94" stroke="#5a2230" stroke-width="0.95"/>
<circle cx="430.00" cy="199.69" r="1.35" fill="#b48c94" stroke="#5a2230" stroke-width="0.95"/>
<circle cx="432.90" cy="199.69" r="1.35" fill="#b48c94" stroke="#5a2230" stroke-width="0.95"/>
<circle cx="448.50" cy="199.69" r="1.35" fill="#b48c94" stroke="#5a2230" stroke-width="0.95"/>
<circle cx="450.50" cy="199.69" r="1.35" fill="#b48c94" stroke="#5a2230" stroke-width="0.95"/>
<circle cx="452.50" cy="199.69" r="1.35" fill="#b48c94" stroke="#5a2230" stroke-width="0.95"/>
<circle cx="457.70" cy="199.69" r="1.35" fill="#b48c94" stroke="#5a2230" stroke-width="0.95"/>
<circle cx="460.60" cy="199.69" r="1.35" fill="#b48c94" stroke="#5a2230" stroke-width="0.95"/>
<circle cx="477.30" cy="199.69" r="1.35" fill="#b48c94" stroke="#5a2230" stroke-width="0.95"/>
<circle cx="479.50" cy="199.69" r="1.35" fill="#b48c94" stroke="#5a2230" stroke-width="0.95"/>
<circle cx="481.50" cy="199.69" r="1.35" fill="#b48c94" stroke="#5a2230" stroke-width="0.95"/>
<circle cx="483.70" cy="199.69" r="1.35" fill="#b48c94" stroke="#5a2230" stroke-width="0.95"/>
<circle cx="490.40" cy="199.69" r="1.35" fill="#b48c94" stroke="#5a2230" stroke-width="0.95"/>
<text x="62.80" y="242.55" font-size="5.25" text-anchor="end" fill="#3a3a3a" font-weight="normal">Ovary</text>
<line x1="63.40" y1="240.70" x2="65.80" y2="240.70" stroke="#555" stroke-width="0.45"/>
<rect x="66.30" y="238.40" width="8.50" height="4.60" fill="#3f9152"/>
<rect x="74.80" y="238.40" width="2.10" height="4.60" fill="#e6bb2c"/>
<rect x="76.90" y="238.40" width="87.80" height="4.60" fill="#c5161d"/>
<text x="62.80" y="248.30" font-size="5.25" text-anchor="end" fill="#3a3a3a" font-weight="normal">Adrennal gland</text>
<line x1="63.40" y1="246.45" x2="65.80" y2="246.45" stroke="#555" stroke-width="0.45"/>
<rect x="66.30" y="244.15" width="74.70" height="4.60" fill="#c5161d"/>
<text x="62.80" y="254.05" font-size="5.25" text-anchor="end" fill="#3a3a3a" font-weight="normal">Stomach</text>
<line x1="63.40" y1="252.20" x2="65.80" y2="252.20" stroke="#555" stroke-width="0.45"/>
<rect x="66.30" y="249.90" width="8.90" height="4.60" fill="#3f9152"/>
<rect x="75.20" y="249.90" width="18.20" height="4.60" fill="#e6bb2c"/>
<rect x="93.40" y="249.90" width="26.90" height="4.60" fill="#c5161d"/>
<text x="62.80" y="259.80" font-size="5.25" text-anchor="end" fill="#3a3a3a" font-weight="normal">Breast</text>
<line x1="63.40" y1="257.95" x2="65.80" y2="257.95" stroke="#555" stroke-width="0.45"/>
<rect x="66.30" y="255.65" width="6.80" height="4.60" fill="#3f9152"/>
<rect x="73.10" y="255.65" width="15.50" height="4.60" fill="#e6bb2c"/>
<rect x="88.60" y="255.65" width="31.70" height="4.60" fill="#c5161d"/>
<text x="62.80" y="265.55" font-size="5.25" text-anchor="end" fill="#3a3a3a" font-weight="normal">Urinary tract</text>
<line x1="63.40" y1="263.70" x2="65.80" y2="263.70" stroke="#555" stroke-width="0.45"/>
<rect x="66.30" y="261.40" width="13.80" height="4.60" fill="#3f9152"/>
<rect x="80.10" y="261.40" width="4.20" height="4.60" fill="#e6bb2c"/>
<rect x="84.30" y="261.40" width="22.70" height="4.60" fill="#c5161d"/>
<text x="62.80" y="271.30" font-size="5.25" text-anchor="end" fill="#3a3a3a" font-weight="normal">Large intestine</text>
<line x1="63.40" y1="269.45" x2="65.80" y2="269.45" stroke="#555" stroke-width="0.45"/>
<rect x="66.30" y="267.15" width="10.20" height="4.60" fill="#3f9152"/>
<rect x="76.50" y="267.15" width="3.60" height="4.60" fill="#e6bb2c"/>
<rect x="80.10" y="267.15" width="23.30" height="4.60" fill="#c5161d"/>
<text x="62.80" y="277.05" font-size="5.25" text-anchor="end" fill="#3a3a3a" font-weight="normal">Endometrium</text>
<line x1="63.40" y1="275.20" x2="65.80" y2="275.20" stroke="#555" stroke-width="0.45"/>
<rect x="66.30" y="272.90" width="12.70" height="4.60" fill="#3f9152"/>
<rect x="79.00" y="272.90" width="6.00" height="4.60" fill="#e6bb2c"/>
<rect x="85.00" y="272.90" width="14.80" height="4.60" fill="#c5161d"/>
<text x="62.80" y="282.80" font-size="5.25" text-anchor="end" fill="#3a3a3a" font-weight="normal">Skin</text>
<line x1="63.40" y1="280.95" x2="65.80" y2="280.95" stroke="#555" stroke-width="0.45"/>
<rect x="66.30" y="278.65" width="12.30" height="4.60" fill="#3f9152"/>
<rect x="78.60" y="278.65" width="17.80" height="4.60" fill="#c5161d"/>
<text x="62.80" y="288.55" font-size="5.25" text-anchor="end" fill="#3a3a3a" font-weight="normal">Liver</text>
<line x1="63.40" y1="286.70" x2="65.80" y2="286.70" stroke="#555" stroke-width="0.45"/>
<rect x="66.30" y="284.40" width="9.60" height="4.60" fill="#3f9152"/>
<rect x="75.90" y="284.40" width="22.70" height="4.60" fill="#c5161d"/>
<text x="62.80" y="294.30" font-size="5.25" text-anchor="end" fill="#3a3a3a" font-weight="normal">Cervix</text>
<line x1="63.40" y1="292.45" x2="65.80" y2="292.45" stroke="#555" stroke-width="0.45"/>
<rect x="66.30" y="290.15" width="11.20" height="4.60" fill="#3f9152"/>
<rect x="77.50" y="290.15" width="2.40" height="4.60" fill="#e6bb2c"/>
<rect x="79.90" y="290.15" width="15.80" height="4.60" fill="#c5161d"/>
<text x="62.80" y="300.05" font-size="5.25" text-anchor="end" fill="#3a3a3a" font-weight="normal">Oesophagus</text>
<line x1="63.40" y1="298.20" x2="65.80" y2="298.20" stroke="#555" stroke-width="0.45"/>
<rect x="66.30" y="295.90" width="6.70" height="4.60" fill="#3f9152"/>
<rect x="73.00" y="295.90" width="5.20" height="4.60" fill="#e6bb2c"/>
<rect x="78.20" y="295.90" width="17.10" height="4.60" fill="#c5161d"/>
<text x="62.80" y="305.80" font-size="5.25" text-anchor="end" fill="#3a3a3a" font-weight="normal">Lung</text>
<line x1="63.40" y1="303.95" x2="65.80" y2="303.95" stroke="#555" stroke-width="0.45"/>
<rect x="66.30" y="301.65" width="5.50" height="4.60" fill="#3f9152"/>
<rect x="71.80" y="301.65" width="2.30" height="4.60" fill="#e6bb2c"/>
<rect x="74.10" y="301.65" width="15.50" height="4.60" fill="#c5161d"/>
<text x="62.80" y="311.55" font-size="5.25" text-anchor="end" fill="#3a3a3a" font-weight="normal">Prostate</text>
<line x1="63.40" y1="309.70" x2="65.80" y2="309.70" stroke="#555" stroke-width="0.45"/>
<rect x="66.30" y="307.40" width="10.50" height="4.60" fill="#3f9152"/>
<rect x="76.80" y="307.40" width="11.20" height="4.60" fill="#c5161d"/>
<text x="62.80" y="317.30" font-size="5.25" text-anchor="end" fill="#3a3a3a" font-weight="normal">Upper aerodigestive tract</text>
<line x1="63.40" y1="315.45" x2="65.80" y2="315.45" stroke="#555" stroke-width="0.45"/>
<rect x="66.30" y="313.15" width="3.80" height="4.60" fill="#3f9152"/>
<rect x="70.10" y="313.15" width="4.00" height="4.60" fill="#e6bb2c"/>
<rect x="74.10" y="313.15" width="11.70" height="4.60" fill="#c5161d"/>
<text x="62.80" y="323.05" font-size="5.25" text-anchor="end" fill="#3a3a3a" font-weight="normal">Central nervous system</text>
<line x1="63.40" y1="321.20" x2="65.80" y2="321.20" stroke="#555" stroke-width="0.45"/>
<rect x="66.30" y="318.90" width="2.90" height="4.60" fill="#3f9152"/>
<rect x="69.20" y="318.90" width="11.70" height="4.60" fill="#c5161d"/>
<text x="62.80" y="328.80" font-size="5.25" text-anchor="end" fill="#3a3a3a" font-weight="normal">Pancreas</text>
<line x1="63.40" y1="326.95" x2="65.80" y2="326.95" stroke="#555" stroke-width="0.45"/>
<rect x="66.30" y="324.65" width="4.50" height="4.60" fill="#3f9152"/>
<rect x="70.80" y="324.65" width="9.10" height="4.60" fill="#c5161d"/>
<line x1="65.80" y1="237.50" x2="65.80" y2="330.80" stroke="#555" stroke-width="0.75"/>
<line x1="65.80" y1="330.80" x2="204.80" y2="330.80" stroke="#555" stroke-width="0.75"/>
<line x1="66.30" y1="330.80" x2="66.30" y2="332.60" stroke="#555" stroke-width="0.45"/>
<text x="66.30" y="338.00" font-size="5.0" text-anchor="middle" fill="#444444" font-weight="normal">0</text>
<line x1="111.90" y1="330.80" x2="111.90" y2="332.60" stroke="#555" stroke-width="0.45"/>
<text x="111.90" y="338.00" font-size="5.0" text-anchor="middle" fill="#444444" font-weight="normal">20</text>
<line x1="157.50" y1="330.80" x2="157.50" y2="332.60" stroke="#555" stroke-width="0.45"/>
<text x="157.50" y="338.00" font-size="5.0" text-anchor="middle" fill="#444444" font-weight="normal">40</text>
<line x1="203.10" y1="330.80" x2="203.10" y2="332.60" stroke="#555" stroke-width="0.45"/>
<text x="203.10" y="338.00" font-size="5.0" text-anchor="middle" fill="#444444" font-weight="normal">60</text>
<text x="209.20" y="330.20" font-size="5.0" text-anchor="start" fill="#444444" font-weight="normal">%</text>
<rect x="151.50" y="253.50" width="9.60" height="4.40" fill="#3f9152" stroke="#555" stroke-width="0.3"/>
<rect x="151.50" y="260.40" width="9.60" height="4.40" fill="#e6bb2c" stroke="#555" stroke-width="0.3"/>
<rect x="151.50" y="267.40" width="9.60" height="4.40" fill="#c5161d" stroke="#555" stroke-width="0.3"/>
<text x="163.50" y="257.60" font-size="5.25" text-anchor="start" fill="#3a3a3a" font-weight="normal">Point mutations</text>
<text x="163.50" y="264.50" font-size="5.25" text-anchor="start" fill="#3a3a3a" font-weight="normal">Copy number variation</text>
<text x="163.50" y="271.50" font-size="5.25" text-anchor="start" fill="#3a3a3a" font-weight="normal">Amplification</text>
<line x1="242.60" y1="239.30" x2="242.60" y2="329.50" stroke="#555" stroke-width="0.75"/>
<line x1="242.60" y1="329.20" x2="441.00" y2="329.20" stroke="#555" stroke-width="0.75"/>
<line x1="240.30" y1="329.20" x2="242.60" y2="329.20" stroke="#555" stroke-width="0.5"/>
<text x="240.00" y="331.90" font-size="5.2" text-anchor="end" fill="#444444" font-weight="normal">0</text>
<line x1="240.30" y1="311.30" x2="242.60" y2="311.30" stroke="#555" stroke-width="0.5"/>
<text x="240.00" y="314.00" font-size="5.2" text-anchor="end" fill="#444444" font-weight="normal">5</text>
<line x1="240.30" y1="293.40" x2="242.60" y2="293.40" stroke="#555" stroke-width="0.5"/>
<text x="240.00" y="296.10" font-size="5.2" text-anchor="end" fill="#444444" font-weight="normal">10</text>
<line x1="240.30" y1="275.50" x2="242.60" y2="275.50" stroke="#555" stroke-width="0.5"/>
<text x="240.00" y="278.20" font-size="5.2" text-anchor="end" fill="#444444" font-weight="normal">15</text>
<line x1="240.30" y1="257.60" x2="242.60" y2="257.60" stroke="#555" stroke-width="0.5"/>
<text x="240.00" y="260.30" font-size="5.2" text-anchor="end" fill="#444444" font-weight="normal">20</text>
<line x1="240.30" y1="239.70" x2="242.60" y2="239.70" stroke="#555" stroke-width="0.5"/>
<text x="240.00" y="242.40" font-size="5.2" text-anchor="end" fill="#444444" font-weight="normal">25</text>
<text x="227.00" y="285.20" font-size="5.2" text-anchor="middle" fill="#444444" font-weight="normal" transform="rotate(-90 227.00 285.20)" textLength="45.00" lengthAdjust="spacingAndGlyphs">Alteration frequency</text>
<rect x="244.20" y="301.00" width="4.60" height="28.20" fill="#3f9152" stroke="rgba(0,0,0,0.35)" stroke-width="0.25"/>
<rect x="244.20" y="274.00" width="4.60" height="27.00" fill="#c5161d" stroke="rgba(0,0,0,0.35)" stroke-width="0.25"/>
<rect x="244.20" y="267.20" width="4.60" height="6.80" fill="#8e5ea8" stroke="rgba(0,0,0,0.35)" stroke-width="0.25"/>
<rect x="244.20" y="267.20" width="4.60" height="62.00" fill="none" stroke="rgba(0,0,0,0.5)" stroke-width="0.4"/>
<line x1="246.50" y1="329.20" x2="246.50" y2="330.60" stroke="#555" stroke-width="0.4"/>
<text x="247.90" y="333.80" font-size="4.9" text-anchor="end" fill="#444444" font-weight="normal" transform="rotate(-45 247.90 333.80)">UN-STAD</text>
<rect x="250.84" y="316.30" width="4.60" height="12.90" fill="#3f9152" stroke="rgba(0,0,0,0.35)" stroke-width="0.25"/>
<rect x="250.84" y="282.80" width="4.60" height="33.50" fill="#c5161d" stroke="rgba(0,0,0,0.35)" stroke-width="0.25"/>
<rect x="250.84" y="282.80" width="4.60" height="46.40" fill="none" stroke="rgba(0,0,0,0.5)" stroke-width="0.4"/>
<line x1="253.14" y1="329.20" x2="253.14" y2="330.60" stroke="#555" stroke-width="0.4"/>
<text x="254.54" y="333.80" font-size="4.9" text-anchor="end" fill="#444444" font-weight="normal" transform="rotate(-45 254.54 333.80)">ESCAD</text>
<rect x="257.47" y="324.50" width="4.60" height="4.70" fill="#3f9152" stroke="rgba(0,0,0,0.35)" stroke-width="0.25"/>
<rect x="257.47" y="322.00" width="4.60" height="2.50" fill="#e6bb2c" stroke="rgba(0,0,0,0.35)" stroke-width="0.25"/>
<rect x="257.47" y="292.40" width="4.60" height="29.60" fill="#c5161d" stroke="rgba(0,0,0,0.35)" stroke-width="0.25"/>
<rect x="257.47" y="288.90" width="4.60" height="3.50" fill="#8e5ea8" stroke="rgba(0,0,0,0.35)" stroke-width="0.25"/>
<rect x="257.47" y="286.20" width="4.60" height="2.70" fill="#6a8fcf" stroke="rgba(0,0,0,0.35)" stroke-width="0.25"/>
<rect x="257.47" y="286.20" width="4.60" height="43.00" fill="none" stroke="rgba(0,0,0,0.5)" stroke-width="0.4"/>
<line x1="259.77" y1="329.20" x2="259.77" y2="330.60" stroke="#555" stroke-width="0.4"/>
<text x="261.17" y="333.80" font-size="4.9" text-anchor="end" fill="#444444" font-weight="normal" transform="rotate(-45 261.17 333.80)">BRC</text>
<rect x="264.11" y="304.70" width="4.60" height="24.50" fill="#3f9152" stroke="rgba(0,0,0,0.35)" stroke-width="0.25"/>
<rect x="264.11" y="291.40" width="4.60" height="13.30" fill="#c5161d" stroke="rgba(0,0,0,0.35)" stroke-width="0.25"/>
<rect x="264.11" y="290.50" width="4.60" height="0.90" fill="#4a2a3a" stroke="rgba(0,0,0,0.35)" stroke-width="0.25"/>
<rect x="264.11" y="290.50" width="4.60" height="38.70" fill="none" stroke="rgba(0,0,0,0.5)" stroke-width="0.4"/>
<line x1="266.41" y1="329.20" x2="266.41" y2="330.60" stroke="#555" stroke-width="0.4"/>
<text x="267.81" y="333.80" font-size="4.9" text-anchor="end" fill="#444444" font-weight="normal" transform="rotate(-45 267.81 333.80)">BLC</text>
<rect x="270.74" y="307.70" width="4.60" height="21.50" fill="#3f9152" stroke="rgba(0,0,0,0.35)" stroke-width="0.25"/>
<rect x="270.74" y="296.50" width="4.60" height="11.20" fill="#c5161d" stroke="rgba(0,0,0,0.35)" stroke-width="0.25"/>
<rect x="270.74" y="295.30" width="4.60" height="1.20" fill="#4a2a3a" stroke="rgba(0,0,0,0.35)" stroke-width="0.25"/>
<rect x="270.74" y="295.30" width="4.60" height="33.90" fill="none" stroke="rgba(0,0,0,0.5)" stroke-width="0.4"/>
<line x1="273.04" y1="329.20" x2="273.04" y2="330.60" stroke="#555" stroke-width="0.4"/>
<text x="274.44" y="333.80" font-size="4.9" text-anchor="end" fill="#444444" font-weight="normal" transform="rotate(-45 274.44 333.80)">UCEC</text>
<rect x="277.38" y="310.40" width="4.60" height="18.80" fill="#3f9152" stroke="rgba(0,0,0,0.35)" stroke-width="0.25"/>
<rect x="277.38" y="301.60" width="4.60" height="8.80" fill="#c5161d" stroke="rgba(0,0,0,0.35)" stroke-width="0.25"/>
<rect x="277.38" y="301.60" width="4.60" height="27.60" fill="none" stroke="rgba(0,0,0,0.5)" stroke-width="0.4"/>
<line x1="279.68" y1="329.20" x2="279.68" y2="330.60" stroke="#555" stroke-width="0.4"/>
<text x="281.08" y="333.80" font-size="4.9" text-anchor="end" fill="#444444" font-weight="normal" transform="rotate(-45 281.08 333.80)">CESC</text>
<rect x="284.02" y="310.80" width="4.60" height="18.40" fill="#3f9152" stroke="rgba(0,0,0,0.35)" stroke-width="0.25"/>
<rect x="284.02" y="305.30" width="4.60" height="5.50" fill="#c5161d" stroke="rgba(0,0,0,0.35)" stroke-width="0.25"/>
<rect x="284.02" y="305.30" width="4.60" height="23.90" fill="none" stroke="rgba(0,0,0,0.5)" stroke-width="0.4"/>
<line x1="286.32" y1="329.20" x2="286.32" y2="330.60" stroke="#555" stroke-width="0.4"/>
<text x="287.72" y="333.80" font-size="4.9" text-anchor="end" fill="#444444" font-weight="normal" transform="rotate(-45 287.72 333.80)">COAD</text>
<rect x="290.65" y="318.00" width="4.60" height="11.20" fill="#3f9152" stroke="rgba(0,0,0,0.35)" stroke-width="0.25"/>
<rect x="290.65" y="312.40" width="4.60" height="5.60" fill="#c5161d" stroke="rgba(0,0,0,0.35)" stroke-width="0.25"/>
<rect x="290.65" y="311.20" width="4.60" height="1.20" fill="#8e5ea8" stroke="rgba(0,0,0,0.35)" stroke-width="0.25"/>
<rect x="290.65" y="306.00" width="4.60" height="5.20" fill="#6a8fcf" stroke="rgba(0,0,0,0.35)" stroke-width="0.25"/>
<rect x="290.65" y="306.00" width="4.60" height="23.20" fill="none" stroke="rgba(0,0,0,0.5)" stroke-width="0.4"/>
<line x1="292.95" y1="329.20" x2="292.95" y2="330.60" stroke="#555" stroke-width="0.4"/>
<text x="294.35" y="333.80" font-size="4.9" text-anchor="end" fill="#444444" font-weight="normal" transform="rotate(-45 294.35 333.80)">HNSC</text>
<rect x="297.29" y="309.20" width="4.60" height="20.00" fill="#3f9152" stroke="rgba(0,0,0,0.35)" stroke-width="0.25"/>
<rect x="297.29" y="309.20" width="4.60" height="20.00" fill="none" stroke="rgba(0,0,0,0.5)" stroke-width="0.4"/>
<line x1="299.59" y1="329.20" x2="299.59" y2="330.60" stroke="#555" stroke-width="0.4"/>
<text x="300.99" y="333.80" font-size="4.9" text-anchor="end" fill="#444444" font-weight="normal" transform="rotate(-45 300.99 333.80)">PAAD</text>
<rect x="303.92" y="327.70" width="4.60" height="1.50" fill="#3f9152" stroke="rgba(0,0,0,0.35)" stroke-width="0.25"/>
<rect x="303.92" y="312.30" width="4.60" height="15.40" fill="#c5161d" stroke="rgba(0,0,0,0.35)" stroke-width="0.25"/>
<rect x="303.92" y="311.70" width="4.60" height="0.60" fill="#4a2a3a" stroke="rgba(0,0,0,0.35)" stroke-width="0.25"/>
<rect x="303.92" y="311.70" width="4.60" height="17.50" fill="none" stroke="rgba(0,0,0,0.5)" stroke-width="0.4"/>
<line x1="306.22" y1="329.20" x2="306.22" y2="330.60" stroke="#555" stroke-width="0.4"/>
<text x="307.62" y="333.80" font-size="4.9" text-anchor="end" fill="#444444" font-weight="normal" transform="rotate(-45 307.62 333.80)">LUSC</text>
<rect x="310.56" y="320.00" width="4.60" height="9.20" fill="#3f9152" stroke="rgba(0,0,0,0.35)" stroke-width="0.25"/>
<rect x="310.56" y="313.10" width="4.60" height="6.90" fill="#c5161d" stroke="rgba(0,0,0,0.35)" stroke-width="0.25"/>
<rect x="310.56" y="312.30" width="4.60" height="0.80" fill="#4a2a3a" stroke="rgba(0,0,0,0.35)" stroke-width="0.25"/>
<rect x="310.56" y="312.30" width="4.60" height="16.90" fill="none" stroke="rgba(0,0,0,0.5)" stroke-width="0.4"/>
<line x1="312.86" y1="329.20" x2="312.86" y2="330.60" stroke="#555" stroke-width="0.4"/>
<text x="314.26" y="333.80" font-size="4.9" text-anchor="end" fill="#444444" font-weight="normal" transform="rotate(-45 314.26 333.80)">CHOL</text>
<rect x="317.20" y="328.20" width="4.60" height="1.00" fill="#3f9152" stroke="rgba(0,0,0,0.35)" stroke-width="0.25"/>
<rect x="317.20" y="313.70" width="4.60" height="14.50" fill="#c5161d" stroke="rgba(0,0,0,0.35)" stroke-width="0.25"/>
<rect x="317.20" y="313.70" width="4.60" height="15.50" fill="none" stroke="rgba(0,0,0,0.5)" stroke-width="0.4"/>
<line x1="319.50" y1="329.20" x2="319.50" y2="330.60" stroke="#555" stroke-width="0.4"/>
<text x="320.90" y="333.80" font-size="4.9" text-anchor="end" fill="#444444" font-weight="normal" transform="rotate(-45 320.90 333.80)">SARC</text>
<rect x="323.83" y="321.30" width="4.60" height="7.90" fill="#3f9152" stroke="rgba(0,0,0,0.35)" stroke-width="0.25"/>
<rect x="323.83" y="314.20" width="4.60" height="7.10" fill="#c5161d" stroke="rgba(0,0,0,0.35)" stroke-width="0.25"/>
<rect x="323.83" y="314.20" width="4.60" height="15.00" fill="none" stroke="rgba(0,0,0,0.5)" stroke-width="0.4"/>
<line x1="326.13" y1="329.20" x2="326.13" y2="330.60" stroke="#555" stroke-width="0.4"/>
<text x="327.53" y="333.80" font-size="4.9" text-anchor="end" fill="#444444" font-weight="normal" transform="rotate(-45 327.53 333.80)">OV</text>
<rect x="330.47" y="325.20" width="4.60" height="4.00" fill="#e6bb2c" stroke="rgba(0,0,0,0.35)" stroke-width="0.25"/>
<rect x="330.47" y="323.80" width="4.60" height="1.40" fill="#c5161d" stroke="rgba(0,0,0,0.35)" stroke-width="0.25"/>
<rect x="330.47" y="317.50" width="4.60" height="6.30" fill="#6a8fcf" stroke="rgba(0,0,0,0.35)" stroke-width="0.25"/>
<rect x="330.47" y="317.50" width="4.60" height="11.70" fill="none" stroke="rgba(0,0,0,0.5)" stroke-width="0.4"/>
<line x1="332.77" y1="329.20" x2="332.77" y2="330.60" stroke="#555" stroke-width="0.4"/>
<text x="334.17" y="333.80" font-size="4.9" text-anchor="end" fill="#444444" font-weight="normal" transform="rotate(-45 334.17 333.80)">PRAD</text>
<rect x="337.10" y="323.30" width="4.60" height="5.90" fill="#3f9152" stroke="rgba(0,0,0,0.35)" stroke-width="0.25"/>
<rect x="337.10" y="320.40" width="4.60" height="2.90" fill="#c5161d" stroke="rgba(0,0,0,0.35)" stroke-width="0.25"/>
<rect x="337.10" y="318.50" width="4.60" height="1.90" fill="#4a2a3a" stroke="rgba(0,0,0,0.35)" stroke-width="0.25"/>
<rect x="337.10" y="318.50" width="4.60" height="10.70" fill="none" stroke="rgba(0,0,0,0.5)" stroke-width="0.4"/>
<line x1="339.40" y1="329.20" x2="339.40" y2="330.60" stroke="#555" stroke-width="0.4"/>
<text x="340.80" y="333.80" font-size="4.9" text-anchor="end" fill="#444444" font-weight="normal" transform="rotate(-45 340.80 333.80)">LIHC</text>
<rect x="343.74" y="325.80" width="4.60" height="3.40" fill="#3f9152" stroke="rgba(0,0,0,0.35)" stroke-width="0.25"/>
<rect x="343.74" y="319.40" width="4.60" height="6.40" fill="#c5161d" stroke="rgba(0,0,0,0.35)" stroke-width="0.25"/>
<rect x="343.74" y="318.80" width="4.60" height="0.60" fill="#4a2a3a" stroke="rgba(0,0,0,0.35)" stroke-width="0.25"/>
<rect x="343.74" y="318.80" width="4.60" height="10.40" fill="none" stroke="rgba(0,0,0,0.5)" stroke-width="0.4"/>
<line x1="346.04" y1="329.20" x2="346.04" y2="330.60" stroke="#555" stroke-width="0.4"/>
<text x="347.44" y="333.80" font-size="4.9" text-anchor="end" fill="#444444" font-weight="normal" transform="rotate(-45 347.44 333.80)">SKCM</text>
<rect x="350.38" y="319.40" width="4.60" height="9.80" fill="#3f9152" stroke="rgba(0,0,0,0.35)" stroke-width="0.25"/>
<rect x="350.38" y="319.40" width="4.60" height="9.80" fill="none" stroke="rgba(0,0,0,0.5)" stroke-width="0.4"/>
<line x1="352.68" y1="329.20" x2="352.68" y2="330.60" stroke="#555" stroke-width="0.4"/>
<text x="354.08" y="333.80" font-size="4.9" text-anchor="end" fill="#444444" font-weight="normal" transform="rotate(-45 354.08 333.80)">KIRC</text>
<rect x="357.01" y="321.90" width="4.60" height="7.30" fill="#3f9152" stroke="rgba(0,0,0,0.35)" stroke-width="0.25"/>
<rect x="357.01" y="321.90" width="4.60" height="7.30" fill="none" stroke="rgba(0,0,0,0.5)" stroke-width="0.4"/>
<line x1="359.31" y1="329.20" x2="359.31" y2="330.60" stroke="#555" stroke-width="0.4"/>
<text x="360.71" y="333.80" font-size="4.9" text-anchor="end" fill="#444444" font-weight="normal" transform="rotate(-45 360.71 333.80)">GBM</text>
<rect x="363.65" y="325.80" width="4.60" height="3.40" fill="#3f9152" stroke="rgba(0,0,0,0.35)" stroke-width="0.25"/>
<rect x="363.65" y="323.30" width="4.60" height="2.50" fill="#c5161d" stroke="rgba(0,0,0,0.35)" stroke-width="0.25"/>
<rect x="363.65" y="322.00" width="4.60" height="1.30" fill="#4a2a3a" stroke="rgba(0,0,0,0.35)" stroke-width="0.25"/>
<rect x="363.65" y="322.00" width="4.60" height="7.20" fill="none" stroke="rgba(0,0,0,0.5)" stroke-width="0.4"/>
<line x1="365.95" y1="329.20" x2="365.95" y2="330.60" stroke="#555" stroke-width="0.4"/>
<text x="367.35" y="333.80" font-size="4.9" text-anchor="end" fill="#444444" font-weight="normal" transform="rotate(-45 367.35 333.80)">LGG</text>
<rect x="370.28" y="323.80" width="4.60" height="5.40" fill="#3f9152" stroke="rgba(0,0,0,0.35)" stroke-width="0.25"/>
<rect x="370.28" y="323.80" width="4.60" height="5.40" fill="none" stroke="rgba(0,0,0,0.5)" stroke-width="0.4"/>
<line x1="372.58" y1="329.20" x2="372.58" y2="330.60" stroke="#555" stroke-width="0.4"/>
<text x="373.98" y="333.80" font-size="4.9" text-anchor="end" fill="#444444" font-weight="normal" transform="rotate(-45 373.98 333.80)">LAML</text>
<rect x="376.92" y="323.80" width="4.60" height="5.40" fill="#3f9152" stroke="rgba(0,0,0,0.35)" stroke-width="0.25"/>
<rect x="376.92" y="323.80" width="4.60" height="5.40" fill="none" stroke="rgba(0,0,0,0.5)" stroke-width="0.4"/>
<line x1="379.22" y1="329.20" x2="379.22" y2="330.60" stroke="#555" stroke-width="0.4"/>
<text x="380.62" y="333.80" font-size="4.9" text-anchor="end" fill="#444444" font-weight="normal" transform="rotate(-45 380.62 333.80)">THCA</text>
<rect x="383.56" y="324.40" width="4.60" height="4.80" fill="#6a8fcf" stroke="rgba(0,0,0,0.35)" stroke-width="0.25"/>
<rect x="383.56" y="324.40" width="4.60" height="4.80" fill="none" stroke="rgba(0,0,0,0.5)" stroke-width="0.4"/>
<line x1="385.86" y1="329.20" x2="385.86" y2="330.60" stroke="#555" stroke-width="0.4"/>
<text x="387.26" y="333.80" font-size="4.9" text-anchor="end" fill="#444444" font-weight="normal" transform="rotate(-45 387.26 333.80)">KICH</text>
<rect x="390.19" y="324.80" width="4.60" height="4.40" fill="#3f9152" stroke="rgba(0,0,0,0.35)" stroke-width="0.25"/>
<rect x="390.19" y="324.80" width="4.60" height="4.40" fill="none" stroke="rgba(0,0,0,0.5)" stroke-width="0.4"/>
<line x1="392.49" y1="329.20" x2="392.49" y2="330.60" stroke="#555" stroke-width="0.4"/>
<text x="393.89" y="333.80" font-size="4.9" text-anchor="end" fill="#444444" font-weight="normal" transform="rotate(-45 393.89 333.80)">MESO</text>
<rect x="396.83" y="324.80" width="4.60" height="4.40" fill="#3f9152" stroke="rgba(0,0,0,0.35)" stroke-width="0.25"/>
<rect x="396.83" y="324.80" width="4.60" height="4.40" fill="none" stroke="rgba(0,0,0,0.5)" stroke-width="0.4"/>
<line x1="399.13" y1="329.20" x2="399.13" y2="330.60" stroke="#555" stroke-width="0.4"/>
<text x="400.53" y="333.80" font-size="4.9" text-anchor="end" fill="#444444" font-weight="normal" transform="rotate(-45 400.53 333.80)">UVM</text>
<rect x="403.46" y="325.60" width="4.60" height="3.60" fill="#c5161d" stroke="rgba(0,0,0,0.35)" stroke-width="0.25"/>
<rect x="403.46" y="325.60" width="4.60" height="3.60" fill="none" stroke="rgba(0,0,0,0.5)" stroke-width="0.4"/>
<line x1="405.76" y1="329.20" x2="405.76" y2="330.60" stroke="#555" stroke-width="0.4"/>
<text x="407.16" y="333.80" font-size="4.9" text-anchor="end" fill="#444444" font-weight="normal" transform="rotate(-45 407.16 333.80)">DLBC</text>
<rect x="410.10" y="325.60" width="4.60" height="3.60" fill="#3f9152" stroke="rgba(0,0,0,0.35)" stroke-width="0.25"/>
<rect x="410.10" y="325.60" width="4.60" height="3.60" fill="none" stroke="rgba(0,0,0,0.5)" stroke-width="0.4"/>
<line x1="412.40" y1="329.20" x2="412.40" y2="330.60" stroke="#555" stroke-width="0.4"/>
<text x="413.80" y="333.80" font-size="4.9" text-anchor="end" fill="#444444" font-weight="normal" transform="rotate(-45 413.80 333.80)">ACC</text>
<rect x="416.74" y="326.00" width="4.60" height="3.20" fill="#c5161d" stroke="rgba(0,0,0,0.35)" stroke-width="0.25"/>
<rect x="416.74" y="326.00" width="4.60" height="3.20" fill="none" stroke="rgba(0,0,0,0.5)" stroke-width="0.4"/>
<line x1="419.04" y1="329.20" x2="419.04" y2="330.60" stroke="#555" stroke-width="0.4"/>
<text x="420.44" y="333.80" font-size="4.9" text-anchor="end" fill="#444444" font-weight="normal" transform="rotate(-45 420.44 333.80)">PCPG</text>
<rect x="423.37" y="326.30" width="4.60" height="2.90" fill="#e6bb2c" stroke="rgba(0,0,0,0.35)" stroke-width="0.25"/>
<rect x="423.37" y="326.30" width="4.60" height="2.90" fill="none" stroke="rgba(0,0,0,0.5)" stroke-width="0.4"/>
<line x1="425.67" y1="329.20" x2="425.67" y2="330.60" stroke="#555" stroke-width="0.4"/>
<text x="427.07" y="333.80" font-size="4.9" text-anchor="end" fill="#444444" font-weight="normal" transform="rotate(-45 427.07 333.80)">TGCT</text>
<rect x="430.01" y="327.10" width="4.60" height="2.10" fill="#2f6a40" stroke="rgba(0,0,0,0.35)" stroke-width="0.25"/>
<rect x="430.01" y="327.10" width="4.60" height="2.10" fill="none" stroke="rgba(0,0,0,0.5)" stroke-width="0.4"/>
<line x1="432.31" y1="329.20" x2="432.31" y2="330.60" stroke="#555" stroke-width="0.4"/>
<text x="433.71" y="333.80" font-size="4.9" text-anchor="end" fill="#444444" font-weight="normal" transform="rotate(-45 433.71 333.80)">THYM</text>
<rect x="436.64" y="327.70" width="4.60" height="1.50" fill="#333" stroke="rgba(0,0,0,0.35)" stroke-width="0.25"/>
<rect x="436.64" y="327.70" width="4.60" height="1.50" fill="none" stroke="rgba(0,0,0,0.5)" stroke-width="0.4"/>
<line x1="438.94" y1="329.20" x2="438.94" y2="330.60" stroke="#555" stroke-width="0.4"/>
<text x="440.34" y="333.80" font-size="4.9" text-anchor="end" fill="#444444" font-weight="normal" transform="rotate(-45 440.34 333.80)">KIRP</text>
<rect x="443.80" y="237.00" width="8.30" height="4.40" fill="#3f9152" stroke="#555" stroke-width="0.3"/>
<text x="453.90" y="241.10" font-size="5.3" text-anchor="start" fill="#3a3a3a" font-weight="normal">Mutation</text>
<rect x="443.80" y="245.10" width="8.30" height="4.40" fill="#e6bb2c" stroke="#555" stroke-width="0.3"/>
<text x="453.90" y="249.20" font-size="5.3" text-anchor="start" fill="#3a3a3a" font-weight="normal">Fusion</text>
<rect x="443.80" y="253.20" width="8.30" height="4.40" fill="#c5161d" stroke="#555" stroke-width="0.3"/>
<text x="453.90" y="257.30" font-size="5.3" text-anchor="start" fill="#3a3a3a" font-weight="normal">Amplification</text>
<rect x="443.80" y="261.30" width="8.30" height="4.40" fill="#6a8fcf" stroke="#555" stroke-width="0.3"/>
<text x="453.90" y="265.40" font-size="5.3" text-anchor="start" fill="#3a3a3a" font-weight="normal">Deep deletion</text>
<rect x="443.80" y="269.40" width="8.30" height="4.40" fill="#8e5ea8" stroke="#555" stroke-width="0.3"/>
<text x="453.90" y="273.50" font-size="5.3" text-anchor="start" fill="#3a3a3a" font-weight="normal">Multiple alteration</text>
<defs>
<marker id="ah" viewBox="0 0 10 10" refX="8" refY="5" markerWidth="4.5" markerHeight="4.5" orient="auto-start-reverse"><path d="M0,0 L10,5 L0,10 z" fill="#111"/></marker>
<filter id="sh" x="-20%" y="-20%" width="150%" height="160%"><feGaussianBlur in="SourceAlpha" stdDeviation="1.1"/><feOffset dx="1.6" dy="1.8"/><feComponentTransfer><feFuncA type="linear" slope="0.55"/></feComponentTransfer><feMerge><feMergeNode/><feMergeNode in="SourceGraphic"/></feMerge></filter>
<filter id="sh2" x="-20%" y="-20%" width="150%" height="160%"><feGaussianBlur in="SourceAlpha" stdDeviation="0.8"/><feOffset dx="0.8" dy="1.0"/><feComponentTransfer><feFuncA type="linear" slope="0.35"/></feComponentTransfer><feMerge><feMergeNode/><feMergeNode in="SourceGraphic"/></feMerge></filter>
<radialGradient id="gl" cx="40%" cy="30%" r="75%"><stop offset="0" stop-color="#fff" stop-opacity="0.45"/><stop offset="0.6" stop-color="#fff" stop-opacity="0"/><stop offset="1" stop-color="#000" stop-opacity="0.12"/></radialGradient>
<linearGradient id="nuc" x1="0" y1="0" x2="0" y2="1"><stop offset="0" stop-color="#b4401c"/><stop offset="0.35" stop-color="#8c2a10"/><stop offset="1" stop-color="#6e1e08"/></linearGradient>
</defs>
<text x="10.00" y="360.00" font-size="12.2" text-anchor="start" fill="#111" font-weight="bold">C</text>
<text x="264.00" y="359.50" font-size="12.2" text-anchor="start" fill="#111" font-weight="bold">D</text>
<path d="M4.00,387.29 L8.37,385.98 L12.73,384.70 L17.10,383.47 L21.47,382.27 L25.83,381.11 L30.20,379.99 L34.57,378.91 L38.93,377.87 L43.30,376.87 L47.67,375.92 L52.03,375.00 L56.40,374.13 L60.77,373.30 L65.13,372.51 L69.50,371.76 L73.87,371.06 L78.23,370.41 L82.60,369.79 L86.97,369.23 L91.33,368.70 L95.70,368.23 L100.07,367.80 L104.43,367.42 L108.80,367.08 L113.17,366.79 L117.53,366.55 L121.90,366.36 L126.27,366.22 L130.63,366.13 L135.00,366.08 L139.37,366.09 L143.73,366.15 L148.10,366.25 L152.47,366.41 L156.83,366.63 L161.20,366.89 L165.57,367.21 L169.93,367.58 L174.30,368.00 L178.67,368.48 L183.03,369.01 L187.40,369.59 L191.77,370.24 L196.13,370.93 L200.50,371.69 L204.87,372.50 L209.23,373.37 L213.60,374.29 L217.97,375.27 L222.33,376.32 L226.70,377.42 L231.07,378.58 L235.43,379.79 L239.80,381.07 L244.17,382.41 L248.53,383.81 L252.90,385.27 L257.27,386.80 L261.63,388.38 L266.00,390.03" fill="none" stroke="#c9a6dc" stroke-width="4.2"/>
<path d="M4.00,397.19 L8.37,395.88 L12.73,394.60 L17.10,393.37 L21.47,392.17 L25.83,391.01 L30.20,389.89 L34.57,388.81 L38.93,387.77 L43.30,386.77 L47.67,385.82 L52.03,384.90 L56.40,384.03 L60.77,383.20 L65.13,382.41 L69.50,381.66 L73.87,380.96 L78.23,380.31 L82.60,379.69 L86.97,379.13 L91.33,378.60 L95.70,378.13 L100.07,377.70 L104.43,377.32 L108.80,376.98 L113.17,376.69 L117.53,376.45 L121.90,376.26 L126.27,376.12 L130.63,376.03 L135.00,375.98 L139.37,375.99 L143.73,376.05 L148.10,376.15 L152.47,376.31 L156.83,376.53 L161.20,376.79 L165.57,377.11 L169.93,377.48 L174.30,377.90 L178.67,378.38 L183.03,378.91 L187.40,379.49 L191.77,380.14 L196.13,380.83 L200.50,381.59 L204.87,382.40 L209.23,383.27 L213.60,384.19 L217.97,385.17 L222.33,386.22 L226.70,387.32 L231.07,388.48 L235.43,389.69 L239.80,390.97 L244.17,392.31 L248.53,393.71 L252.90,395.17 L257.27,396.70 L261.63,398.28 L266.00,399.93" fill="none" stroke="#bf98d6" stroke-width="7.6"/>
<path d="M4.00,391.39 L8.37,390.08 L12.73,388.80 L17.10,387.57 L21.47,386.37 L25.83,385.21 L30.20,384.09 L34.57,383.01 L38.93,381.97 L43.30,380.97 L47.67,380.02 L52.03,379.10 L56.40,378.23 L60.77,377.40 L65.13,376.61 L69.50,375.86 L73.87,375.16 L78.23,374.51 L82.60,373.89 L86.97,373.33 L91.33,372.80 L95.70,372.33 L100.07,371.90 L104.43,371.52 L108.80,371.18 L113.17,370.89 L117.53,370.65 L121.90,370.46 L126.27,370.32 L130.63,370.23 L135.00,370.18 L139.37,370.19 L143.73,370.25 L148.10,370.35 L152.47,370.51 L156.83,370.73 L161.20,370.99 L165.57,371.31 L169.93,371.68 L174.30,372.10 L178.67,372.58 L183.03,373.11 L187.40,373.69 L191.77,374.34 L196.13,375.03 L200.50,375.79 L204.87,376.60 L209.23,377.47 L213.60,378.39 L217.97,379.37 L222.33,380.42 L226.70,381.52 L231.07,382.68 L235.43,383.89 L239.80,385.17 L244.17,386.51 L248.53,387.91 L252.90,389.37 L257.27,390.90 L261.63,392.48 L266.00,394.13" fill="none" stroke="#f6f1c6" stroke-width="4.2"/>
<g fill="#d6bde6" stroke="#9a58b8" stroke-width="0.85"><circle cx="6.00" cy="386.68" r="1.7"/><circle cx="9.80" cy="385.56" r="1.7"/><circle cx="13.60" cy="384.45" r="1.7"/><circle cx="17.40" cy="383.38" r="1.7"/><circle cx="21.20" cy="382.34" r="1.7"/><circle cx="25.00" cy="381.33" r="1.7"/><circle cx="28.80" cy="380.35" r="1.7"/><circle cx="32.60" cy="379.39" r="1.7"/><circle cx="36.40" cy="378.47" r="1.7"/><circle cx="40.20" cy="377.58" r="1.7"/><circle cx="44.00" cy="376.72" r="1.7"/><circle cx="47.80" cy="375.89" r="1.7"/><circle cx="51.60" cy="375.09" r="1.7"/><circle cx="55.40" cy="374.32" r="1.7"/><circle cx="59.20" cy="373.59" r="1.7"/><circle cx="63.00" cy="372.89" r="1.7"/><circle cx="66.80" cy="372.22" r="1.7"/><circle cx="70.60" cy="371.58" r="1.7"/><circle cx="74.40" cy="370.98" r="1.7"/><circle cx="78.20" cy="370.41" r="1.7"/><circle cx="82.00" cy="369.87" r="1.7"/><circle cx="85.80" cy="369.37" r="1.7"/><circle cx="89.60" cy="368.91" r="1.7"/><circle cx="93.40" cy="368.47" r="1.7"/><circle cx="97.20" cy="368.08" r="1.7"/><circle cx="101.00" cy="367.71" r="1.7"/><circle cx="104.80" cy="367.39" r="1.7"/><circle cx="108.60" cy="367.09" r="1.7"/><circle cx="112.40" cy="366.84" r="1.7"/><circle cx="116.20" cy="366.62" r="1.7"/><circle cx="120.00" cy="366.44" r="1.7"/><circle cx="123.80" cy="366.29" r="1.7"/><circle cx="127.60" cy="366.18" r="1.7"/><circle cx="131.40" cy="366.11" r="1.7"/><circle cx="135.20" cy="366.08" r="1.7"/><circle cx="139.00" cy="366.09" r="1.7"/><circle cx="142.80" cy="366.13" r="1.7"/><circle cx="146.60" cy="366.21" r="1.7"/><circle cx="150.40" cy="366.33" r="1.7"/><circle cx="154.20" cy="366.49" r="1.7"/><circle cx="158.00" cy="366.69" r="1.7"/><circle cx="161.80" cy="366.93" r="1.7"/><circle cx="165.60" cy="367.21" r="1.7"/><circle cx="169.40" cy="367.53" r="1.7"/><circle cx="173.20" cy="367.89" r="1.7"/><circle cx="177.00" cy="368.29" r="1.7"/><circle cx="180.80" cy="368.73" r="1.7"/><circle cx="184.60" cy="369.21" r="1.7"/><circle cx="188.40" cy="369.74" r="1.7"/><circle cx="192.20" cy="370.30" r="1.7"/><circle cx="196.00" cy="370.91" r="1.7"/><circle cx="199.80" cy="371.56" r="1.7"/><circle cx="203.60" cy="372.26" r="1.7"/><circle cx="207.40" cy="373.00" r="1.7"/><circle cx="211.20" cy="373.78" r="1.7"/><circle cx="215.00" cy="374.60" r="1.7"/><circle cx="218.80" cy="375.47" r="1.7"/><circle cx="222.60" cy="376.38" r="1.7"/><circle cx="226.40" cy="377.34" r="1.7"/><circle cx="230.20" cy="378.34" r="1.7"/><circle cx="234.00" cy="379.39" r="1.7"/><circle cx="237.80" cy="380.48" r="1.7"/><circle cx="241.60" cy="381.62" r="1.7"/><circle cx="245.40" cy="382.80" r="1.7"/><circle cx="249.20" cy="384.03" r="1.7"/><circle cx="253.00" cy="385.31" r="1.7"/><circle cx="256.80" cy="386.63" r="1.7"/><circle cx="260.60" cy="388.00" r="1.7"/><circle cx="264.40" cy="389.42" r="1.7"/><circle cx="7.90" cy="394.62" r="1.7"/><circle cx="11.70" cy="393.50" r="1.7"/><circle cx="15.50" cy="392.42" r="1.7"/><circle cx="19.30" cy="391.36" r="1.7"/><circle cx="23.10" cy="390.33" r="1.7"/><circle cx="26.90" cy="389.33" r="1.7"/><circle cx="30.70" cy="388.37" r="1.7"/><circle cx="34.50" cy="387.43" r="1.7"/><circle cx="38.30" cy="386.52" r="1.7"/><circle cx="42.10" cy="385.64" r="1.7"/><circle cx="45.90" cy="384.80" r="1.7"/><circle cx="49.70" cy="383.99" r="1.7"/><circle cx="53.50" cy="383.20" r="1.7"/><circle cx="57.30" cy="382.45" r="1.7"/><circle cx="61.10" cy="381.73" r="1.7"/><circle cx="64.90" cy="381.05" r="1.7"/><circle cx="68.70" cy="380.40" r="1.7"/><circle cx="72.50" cy="379.78" r="1.7"/><circle cx="76.30" cy="379.19" r="1.7"/><circle cx="80.10" cy="378.64" r="1.7"/><circle cx="83.90" cy="378.12" r="1.7"/><circle cx="87.70" cy="377.64" r="1.7"/><circle cx="91.50" cy="377.19" r="1.7"/><circle cx="95.30" cy="376.77" r="1.7"/><circle cx="99.10" cy="376.39" r="1.7"/><circle cx="102.90" cy="376.05" r="1.7"/><circle cx="106.70" cy="375.74" r="1.7"/><circle cx="110.50" cy="375.46" r="1.7"/><circle cx="114.30" cy="375.23" r="1.7"/><circle cx="118.10" cy="375.03" r="1.7"/><circle cx="121.90" cy="374.86" r="1.7"/><circle cx="125.70" cy="374.73" r="1.7"/><circle cx="129.50" cy="374.64" r="1.7"/><circle cx="133.30" cy="374.59" r="1.7"/><circle cx="137.10" cy="374.58" r="1.7"/><circle cx="140.90" cy="374.60" r="1.7"/><circle cx="144.70" cy="374.67" r="1.7"/><circle cx="148.50" cy="374.77" r="1.7"/><circle cx="152.30" cy="374.91" r="1.7"/><circle cx="156.10" cy="375.09" r="1.7"/><circle cx="159.90" cy="375.30" r="1.7"/><circle cx="163.70" cy="375.56" r="1.7"/><circle cx="167.50" cy="375.86" r="1.7"/><circle cx="171.30" cy="376.20" r="1.7"/><circle cx="175.10" cy="376.58" r="1.7"/><circle cx="178.90" cy="377.00" r="1.7"/><circle cx="182.70" cy="377.47" r="1.7"/><circle cx="186.50" cy="377.97" r="1.7"/><circle cx="190.30" cy="378.52" r="1.7"/><circle cx="194.10" cy="379.10" r="1.7"/><circle cx="197.90" cy="379.73" r="1.7"/><circle cx="201.70" cy="380.41" r="1.7"/><circle cx="205.50" cy="381.12" r="1.7"/><circle cx="209.30" cy="381.88" r="1.7"/><circle cx="213.10" cy="382.68" r="1.7"/><circle cx="216.90" cy="383.53" r="1.7"/><circle cx="220.70" cy="384.42" r="1.7"/><circle cx="224.50" cy="385.35" r="1.7"/><circle cx="228.30" cy="386.33" r="1.7"/><circle cx="232.10" cy="387.36" r="1.7"/><circle cx="235.90" cy="388.43" r="1.7"/><circle cx="239.70" cy="389.54" r="1.7"/><circle cx="243.50" cy="390.70" r="1.7"/><circle cx="247.30" cy="391.91" r="1.7"/><circle cx="251.10" cy="393.16" r="1.7"/><circle cx="254.90" cy="394.46" r="1.7"/><circle cx="258.70" cy="395.81" r="1.7"/><circle cx="262.50" cy="397.20" r="1.7"/><circle cx="6.00" cy="398.38" r="1.7"/><circle cx="9.80" cy="397.26" r="1.7"/><circle cx="13.60" cy="396.15" r="1.7"/><circle cx="17.40" cy="395.08" r="1.7"/><circle cx="21.20" cy="394.04" r="1.7"/><circle cx="25.00" cy="393.03" r="1.7"/><circle cx="28.80" cy="392.05" r="1.7"/><circle cx="32.60" cy="391.09" r="1.7"/><circle cx="36.40" cy="390.17" r="1.7"/><circle cx="40.20" cy="389.28" r="1.7"/><circle cx="44.00" cy="388.42" r="1.7"/><circle cx="47.80" cy="387.59" r="1.7"/><circle cx="51.60" cy="386.79" r="1.7"/><circle cx="55.40" cy="386.02" r="1.7"/><circle cx="59.20" cy="385.29" r="1.7"/><circle cx="63.00" cy="384.59" r="1.7"/><circle cx="66.80" cy="383.92" r="1.7"/><circle cx="70.60" cy="383.28" r="1.7"/><circle cx="74.40" cy="382.68" r="1.7"/><circle cx="78.20" cy="382.11" r="1.7"/><circle cx="82.00" cy="381.57" r="1.7"/><circle cx="85.80" cy="381.07" r="1.7"/><circle cx="89.60" cy="380.61" r="1.7"/><circle cx="93.40" cy="380.17" r="1.7"/><circle cx="97.20" cy="379.78" r="1.7"/><circle cx="101.00" cy="379.41" r="1.7"/><circle cx="104.80" cy="379.09" r="1.7"/><circle cx="108.60" cy="378.79" r="1.7"/><circle cx="112.40" cy="378.54" r="1.7"/><circle cx="116.20" cy="378.32" r="1.7"/><circle cx="120.00" cy="378.14" r="1.7"/><circle cx="123.80" cy="377.99" r="1.7"/><circle cx="127.60" cy="377.88" r="1.7"/><circle cx="131.40" cy="377.81" r="1.7"/><circle cx="135.20" cy="377.78" r="1.7"/><circle cx="139.00" cy="377.79" r="1.7"/><circle cx="142.80" cy="377.83" r="1.7"/><circle cx="146.60" cy="377.91" r="1.7"/><circle cx="150.40" cy="378.03" r="1.7"/><circle cx="154.20" cy="378.19" r="1.7"/><circle cx="158.00" cy="378.39" r="1.7"/><circle cx="161.80" cy="378.63" r="1.7"/><circle cx="165.60" cy="378.91" r="1.7"/><circle cx="169.40" cy="379.23" r="1.7"/><circle cx="173.20" cy="379.59" r="1.7"/><circle cx="177.00" cy="379.99" r="1.7"/><circle cx="180.80" cy="380.43" r="1.7"/><circle cx="184.60" cy="380.91" r="1.7"/><circle cx="188.40" cy="381.44" r="1.7"/><circle cx="192.20" cy="382.00" r="1.7"/><circle cx="196.00" cy="382.61" r="1.7"/><circle cx="199.80" cy="383.26" r="1.7"/><circle cx="203.60" cy="383.96" r="1.7"/><circle cx="207.40" cy="384.70" r="1.7"/><circle cx="211.20" cy="385.48" r="1.7"/><circle cx="215.00" cy="386.30" r="1.7"/><circle cx="218.80" cy="387.17" r="1.7"/><circle cx="222.60" cy="388.08" r="1.7"/><circle cx="226.40" cy="389.04" r="1.7"/><circle cx="230.20" cy="390.04" r="1.7"/><circle cx="234.00" cy="391.09" r="1.7"/><circle cx="237.80" cy="392.18" r="1.7"/><circle cx="241.60" cy="393.32" r="1.7"/><circle cx="245.40" cy="394.50" r="1.7"/><circle cx="249.20" cy="395.73" r="1.7"/><circle cx="253.00" cy="397.01" r="1.7"/><circle cx="256.80" cy="398.33" r="1.7"/><circle cx="260.60" cy="399.70" r="1.7"/><circle cx="264.40" cy="401.12" r="1.7"/></g>
<defs><radialGradient id="nuc2" gradientUnits="userSpaceOnUse" cx="150" cy="488" r="135" gradientTransform="translate(150 488) scale(1 0.40) translate(-150 -488)"><stop offset="0" stop-color="#c84a1a"/><stop offset="0.4" stop-color="#b23c14"/><stop offset="0.75" stop-color="#86280c"/><stop offset="1" stop-color="#581806"/></radialGradient></defs>
<g filter="url(#sh)"><path d="M14.50,526.20 L14.56,525.78 L14.62,525.23 L14.69,524.58 L14.77,523.85 L14.90,523.06 L15.07,522.22 L15.30,521.36 L15.60,520.50 L15.95,519.62 L16.34,518.71 L16.76,517.76 L17.24,516.77 L17.79,515.75 L18.43,514.69 L19.16,513.61 L20.00,512.50 L20.95,511.33 L21.99,510.08 L23.12,508.79 L24.34,507.47 L25.64,506.15 L27.02,504.87 L28.47,503.64 L30.00,502.50 L31.64,501.43 L33.40,500.39 L35.26,499.39 L37.19,498.44 L39.16,497.52 L41.13,496.64 L43.09,495.80 L45.00,495.00 L46.84,494.25 L48.63,493.54 L50.41,492.89 L52.19,492.27 L54.01,491.67 L55.90,491.10 L57.89,490.55 L60.00,490.00 L62.26,489.46 L64.65,488.95 L67.13,488.45 L69.69,487.97 L72.28,487.51 L74.88,487.07 L77.47,486.65 L80.00,486.25 L82.50,485.87 L85.00,485.51 L87.50,485.17 L90.00,484.84 L92.50,484.54 L95.00,484.26 L97.50,483.99 L100.00,483.75 L102.50,483.53 L105.00,483.33 L107.50,483.16 L110.00,483.00 L112.50,482.86 L115.00,482.73 L117.50,482.61 L120.00,482.50 L122.50,482.39 L125.00,482.30 L127.50,482.21 L130.00,482.14 L132.50,482.08 L135.00,482.04 L137.50,482.01 L140.00,482.00 L142.50,482.01 L145.00,482.04 L147.50,482.08 L150.00,482.14 L152.50,482.21 L155.00,482.30 L157.50,482.39 L160.00,482.50 L162.50,482.61 L165.00,482.73 L167.50,482.86 L170.00,483.00 L172.50,483.16 L175.00,483.33 L177.50,483.53 L180.00,483.75 L182.50,483.99 L185.00,484.26 L187.50,484.54 L190.00,484.84 L192.50,485.17 L195.00,485.51 L197.50,485.87 L200.00,486.25 L202.50,486.64 L205.00,487.04 L207.50,487.45 L210.00,487.89 L212.50,488.36 L215.00,488.86 L217.50,489.40 L220.00,490.00 L222.57,490.67 L225.23,491.42 L227.94,492.22 L230.62,493.05 L233.23,493.89 L235.70,494.72 L237.98,495.51 L240.00,496.25 L241.73,496.90 L243.20,497.47 L244.48,498.00 L245.62,498.52 L246.69,499.06 L247.73,499.68 L248.82,500.39 L250.00,501.25 L251.28,502.26 L252.62,503.40 L253.97,504.63 L255.31,505.94 L256.62,507.28 L257.85,508.63 L258.99,509.97 L260.00,511.25 L260.89,512.53 L261.69,513.87 L262.41,515.22 L263.05,516.57 L263.62,517.87 L264.13,519.11 L264.59,520.24 L265.00,521.25 L265.34,522.14 L265.60,522.96 L265.78,523.69 L265.91,524.35 L266.00,524.93 L266.07,525.43 L266.13,525.85 L266.20,526.20 Z" fill="#e2722c"/></g>
<path d="M17.21,525.50 L17.27,524.87 L17.35,524.21 L17.46,523.52 L17.60,522.82 L17.78,522.13 L18.03,521.42 L18.36,520.61 L18.72,519.74 L19.12,518.86 L19.56,517.96 L20.05,517.04 L20.62,516.09 L21.27,515.12 L22.05,514.10 L22.96,512.98 L23.97,511.77 L25.05,510.52 L26.22,509.27 L27.45,508.02 L28.74,506.82 L30.09,505.68 L31.49,504.63 L33.01,503.63 L34.67,502.66 L36.45,501.71 L38.31,500.78 L40.23,499.89 L42.17,499.02 L44.11,498.19 L46.00,497.40 L47.81,496.66 L49.56,495.97 L51.29,495.33 L53.02,494.73 L54.79,494.15 L56.62,493.60 L58.56,493.06 L60.63,492.52 L62.84,492.00 L65.18,491.49 L67.63,491.00 L70.15,490.53 L72.72,490.07 L75.31,489.64 L77.88,489.22 L80.40,488.82 L82.88,488.44 L85.36,488.08 L87.84,487.74 L90.32,487.42 L92.80,487.12 L95.28,486.84 L97.76,486.58 L100.24,486.34 L102.72,486.12 L105.19,485.92 L107.67,485.75 L110.15,485.60 L112.64,485.46 L115.13,485.33 L117.62,485.21 L120.11,485.10 L122.60,484.99 L125.09,484.90 L127.58,484.81 L130.07,484.74 L132.55,484.68 L135.04,484.64 L137.52,484.61 L140.00,484.60 L142.48,484.61 L144.96,484.64 L147.45,484.68 L149.93,484.74 L152.42,484.81 L154.91,484.90 L157.40,484.99 L159.89,485.10 L162.38,485.21 L164.87,485.33 L167.36,485.46 L169.85,485.60 L172.33,485.75 L174.81,485.92 L177.28,486.12 L179.76,486.34 L182.24,486.58 L184.72,486.84 L187.20,487.12 L189.68,487.42 L192.16,487.74 L194.64,488.08 L197.12,488.44 L199.60,488.82 L202.09,489.21 L204.58,489.61 L207.06,490.02 L209.54,490.45 L212.01,490.91 L214.47,491.40 L216.92,491.94 L219.37,492.52 L221.89,493.18 L224.52,493.91 L227.19,494.70 L229.84,495.53 L232.42,496.36 L234.86,497.18 L237.10,497.96 L239.10,498.69 L240.80,499.33 L242.24,499.89 L243.45,500.38 L244.49,500.86 L245.43,501.34 L246.36,501.88 L247.34,502.53 L248.43,503.32 L249.63,504.27 L250.90,505.35 L252.19,506.53 L253.47,507.78 L254.72,509.06 L255.90,510.35 L256.98,511.62 L257.91,512.80 L258.71,513.94 L259.43,515.15 L260.09,516.39 L260.69,517.65 L261.23,518.89 L261.73,520.09 L262.18,521.21 L262.58,522.20 L262.88,523.00 L263.09,523.67 L263.25,524.27 L263.35,524.81 L263.43,525.31 L263.50,525.79 Z" fill="#a4320f"/>
<path d="M18.20,525.60 L18.26,524.98 L18.34,524.34 L18.44,523.69 L18.57,523.05 L18.74,522.43 L18.97,521.77 L19.28,520.99 L19.64,520.14 L20.02,519.28 L20.45,518.41 L20.92,517.53 L21.46,516.63 L22.09,515.71 L22.83,514.72 L23.73,513.62 L24.73,512.42 L25.80,511.19 L26.94,509.96 L28.14,508.74 L29.40,507.57 L30.71,506.46 L32.07,505.45 L33.53,504.48 L35.16,503.53 L36.91,502.59 L38.75,501.68 L40.65,500.80 L42.57,499.94 L44.50,499.11 L46.38,498.33 L48.18,497.59 L49.92,496.91 L51.62,496.27 L53.34,495.68 L55.08,495.11 L56.90,494.56 L58.82,494.02 L60.87,493.49 L63.06,492.97 L65.38,492.47 L67.82,491.98 L70.33,491.51 L72.89,491.06 L75.47,490.62 L78.04,490.21 L80.55,489.81 L83.03,489.43 L85.50,489.07 L87.97,488.73 L90.45,488.42 L92.92,488.12 L95.39,487.84 L97.86,487.58 L100.33,487.33 L102.80,487.12 L105.27,486.92 L107.74,486.75 L110.21,486.59 L112.69,486.45 L115.18,486.33 L117.67,486.21 L120.16,486.10 L122.64,485.99 L125.13,485.90 L127.61,485.81 L130.10,485.74 L132.57,485.68 L135.05,485.64 L137.53,485.61 L140.00,485.60 L142.47,485.61 L144.95,485.64 L147.43,485.68 L149.90,485.74 L152.39,485.81 L154.87,485.90 L157.36,485.99 L159.84,486.10 L162.33,486.21 L164.82,486.33 L167.31,486.45 L169.79,486.59 L172.26,486.75 L174.73,486.92 L177.20,487.12 L179.67,487.33 L182.14,487.58 L184.61,487.84 L187.08,488.12 L189.55,488.42 L192.03,488.73 L194.50,489.07 L196.97,489.43 L199.45,489.81 L201.94,490.20 L204.42,490.59 L206.90,491.00 L209.36,491.43 L211.82,491.89 L214.26,492.38 L216.70,492.91 L219.13,493.49 L221.63,494.15 L224.24,494.88 L226.90,495.66 L229.54,496.48 L232.11,497.31 L234.54,498.12 L236.77,498.90 L238.75,499.63 L240.45,500.26 L241.87,500.82 L243.06,501.30 L244.06,501.76 L244.95,502.22 L245.83,502.73 L246.77,503.35 L247.83,504.12 L249.00,505.04 L250.23,506.10 L251.50,507.25 L252.77,508.48 L254.00,509.75 L255.15,511.02 L256.21,512.25 L257.11,513.39 L257.87,514.49 L258.56,515.64 L259.19,516.84 L259.78,518.07 L260.31,519.28 L260.80,520.47 L261.25,521.59 L261.65,522.57 L261.94,523.33 L262.13,523.94 L262.27,524.49 L262.37,524.99 L262.44,525.46 Z" fill="url(#nuc2)"/>
<line x1="50.00" y1="511.00" x2="50.00" y2="511.00" stroke="#f0a030" stroke-width="1.2"/><line x1="52.90" y1="514.23" x2="52.90" y2="507.77" stroke="#e86a2a" stroke-width="1.2"/><line x1="55.80" y1="516.45" x2="55.80" y2="505.55" stroke="#f4d040" stroke-width="1.2"/><line x1="58.70" y1="516.94" x2="58.70" y2="505.06" stroke="#6a50c0" stroke-width="1.2"/><line x1="61.60" y1="515.56" x2="61.60" y2="506.44" stroke="#f0a030" stroke-width="1.2"/><line x1="64.50" y1="512.74" x2="64.50" y2="509.26" stroke="#e0402a" stroke-width="1.2"/><line x1="67.40" y1="509.37" x2="67.40" y2="512.63" stroke="#f4c040" stroke-width="1.2"/><line x1="70.30" y1="506.51" x2="70.30" y2="515.49" stroke="#f0a030" stroke-width="1.2"/><line x1="73.20" y1="505.07" x2="73.20" y2="516.93" stroke="#e86a2a" stroke-width="1.2"/><line x1="76.10" y1="505.50" x2="76.10" y2="516.50" stroke="#f4d040" stroke-width="1.2"/><line x1="79.00" y1="507.67" x2="79.00" y2="514.33" stroke="#6a50c0" stroke-width="1.2"/><line x1="81.90" y1="510.88" x2="81.90" y2="511.12" stroke="#f0a030" stroke-width="1.2"/><line x1="84.80" y1="514.13" x2="84.80" y2="507.87" stroke="#e0402a" stroke-width="1.2"/><line x1="87.70" y1="516.40" x2="87.70" y2="505.60" stroke="#f4c040" stroke-width="1.2"/><line x1="90.60" y1="516.96" x2="90.60" y2="505.04" stroke="#f0a030" stroke-width="1.2"/><line x1="93.50" y1="515.64" x2="93.50" y2="506.36" stroke="#e86a2a" stroke-width="1.2"/><line x1="96.40" y1="512.85" x2="96.40" y2="509.15" stroke="#f4d040" stroke-width="1.2"/><line x1="99.30" y1="509.49" x2="99.30" y2="512.51" stroke="#6a50c0" stroke-width="1.2"/><line x1="102.20" y1="506.59" x2="102.20" y2="515.41" stroke="#f0a030" stroke-width="1.2"/><line x1="105.10" y1="505.09" x2="105.10" y2="516.91" stroke="#e0402a" stroke-width="1.2"/><line x1="108.00" y1="505.46" x2="108.00" y2="516.54" stroke="#f4c040" stroke-width="1.2"/><line x1="110.90" y1="507.57" x2="110.90" y2="514.43" stroke="#f0a030" stroke-width="1.2"/><line x1="113.80" y1="510.76" x2="113.80" y2="511.24" stroke="#e86a2a" stroke-width="1.2"/><line x1="116.70" y1="514.03" x2="116.70" y2="507.97" stroke="#f4d040" stroke-width="1.2"/><line x1="119.60" y1="516.35" x2="119.60" y2="505.65" stroke="#6a50c0" stroke-width="1.2"/><line x1="122.50" y1="516.97" x2="122.50" y2="505.03" stroke="#f0a030" stroke-width="1.2"/><line x1="125.40" y1="515.71" x2="125.40" y2="506.29" stroke="#e0402a" stroke-width="1.2"/><line x1="128.30" y1="512.97" x2="128.30" y2="509.03" stroke="#f4c040" stroke-width="1.2"/><line x1="131.20" y1="509.60" x2="131.20" y2="512.40" stroke="#f0a030" stroke-width="1.2"/><line x1="134.10" y1="506.67" x2="134.10" y2="515.33" stroke="#e86a2a" stroke-width="1.2"/><line x1="137.00" y1="505.12" x2="137.00" y2="516.88" stroke="#f4d040" stroke-width="1.2"/><line x1="139.90" y1="505.41" x2="139.90" y2="516.59" stroke="#6a50c0" stroke-width="1.2"/><line x1="142.80" y1="507.47" x2="142.80" y2="514.53" stroke="#f0a030" stroke-width="1.2"/><line x1="145.70" y1="510.65" x2="145.70" y2="511.35" stroke="#e0402a" stroke-width="1.2"/><line x1="148.60" y1="513.93" x2="148.60" y2="508.07" stroke="#f4c040" stroke-width="1.2"/><line x1="151.50" y1="516.29" x2="151.50" y2="505.71" stroke="#f0a030" stroke-width="1.2"/><line x1="154.40" y1="516.98" x2="154.40" y2="505.02" stroke="#e86a2a" stroke-width="1.2"/><line x1="157.30" y1="515.78" x2="157.30" y2="506.22" stroke="#f4d040" stroke-width="1.2"/><line x1="160.20" y1="513.08" x2="160.20" y2="508.92" stroke="#6a50c0" stroke-width="1.2"/><line x1="163.10" y1="509.71" x2="163.10" y2="512.29" stroke="#f0a030" stroke-width="1.2"/><line x1="166.00" y1="506.76" x2="166.00" y2="515.24" stroke="#e0402a" stroke-width="1.2"/><line x1="168.90" y1="505.14" x2="168.90" y2="516.86" stroke="#f4c040" stroke-width="1.2"/><line x1="171.80" y1="505.37" x2="171.80" y2="516.63" stroke="#f0a030" stroke-width="1.2"/><line x1="174.70" y1="507.38" x2="174.70" y2="514.62" stroke="#e86a2a" stroke-width="1.2"/><line x1="177.60" y1="510.53" x2="177.60" y2="511.47" stroke="#f4d040" stroke-width="1.2"/><line x1="180.50" y1="513.83" x2="180.50" y2="508.17" stroke="#6a50c0" stroke-width="1.2"/><line x1="183.40" y1="516.23" x2="183.40" y2="505.77" stroke="#f0a030" stroke-width="1.2"/><line x1="186.30" y1="516.99" x2="186.30" y2="505.01" stroke="#e0402a" stroke-width="1.2"/><line x1="189.20" y1="515.85" x2="189.20" y2="506.15" stroke="#f4c040" stroke-width="1.2"/><line x1="192.10" y1="513.19" x2="192.10" y2="508.81" stroke="#f0a030" stroke-width="1.2"/><line x1="195.00" y1="509.83" x2="195.00" y2="512.17" stroke="#e86a2a" stroke-width="1.2"/><line x1="197.90" y1="506.84" x2="197.90" y2="515.16" stroke="#f4d040" stroke-width="1.2"/><line x1="200.80" y1="505.17" x2="200.80" y2="516.83" stroke="#6a50c0" stroke-width="1.2"/><line x1="203.70" y1="505.33" x2="203.70" y2="516.67" stroke="#f0a030" stroke-width="1.2"/><line x1="206.60" y1="507.29" x2="206.60" y2="514.71" stroke="#e0402a" stroke-width="1.2"/><line x1="209.50" y1="510.41" x2="209.50" y2="511.59" stroke="#f4c040" stroke-width="1.2"/><line x1="212.40" y1="513.72" x2="212.40" y2="508.28" stroke="#f0a030" stroke-width="1.2"/><line x1="215.30" y1="516.18" x2="215.30" y2="505.82" stroke="#e86a2a" stroke-width="1.2"/><line x1="218.20" y1="517.00" x2="218.20" y2="505.00" stroke="#f4d040" stroke-width="1.2"/><line x1="221.10" y1="515.92" x2="221.10" y2="506.08" stroke="#6a50c0" stroke-width="1.2"/><line x1="224.00" y1="513.30" x2="224.00" y2="508.70" stroke="#f0a030" stroke-width="1.2"/><line x1="226.90" y1="509.95" x2="226.90" y2="512.05" stroke="#e0402a" stroke-width="1.2"/><line x1="229.80" y1="506.93" x2="229.80" y2="515.07" stroke="#f4c040" stroke-width="1.2"/><line x1="232.70" y1="505.19" x2="232.70" y2="516.81" stroke="#f0a030" stroke-width="1.2"/><line x1="235.60" y1="505.29" x2="235.60" y2="516.71" stroke="#e86a2a" stroke-width="1.2"/><line x1="238.50" y1="507.19" x2="238.50" y2="514.81" stroke="#f4d040" stroke-width="1.2"/><line x1="241.40" y1="510.29" x2="241.40" y2="511.71" stroke="#6a50c0" stroke-width="1.2"/><line x1="244.30" y1="513.62" x2="244.30" y2="508.38" stroke="#f0a030" stroke-width="1.2"/><line x1="247.20" y1="516.12" x2="247.20" y2="505.88" stroke="#e0402a" stroke-width="1.2"/>
<path d="M50.00,511.00 L51.65,512.91 L53.30,514.62 L54.95,515.96 L56.60,516.77 L58.25,516.99 L59.90,516.59 L61.55,515.60 L63.20,514.13 L64.85,512.34 L66.50,510.41 L68.15,508.54 L69.80,506.93 L71.45,505.74 L73.10,505.09 L74.75,505.06 L76.40,505.65 L78.05,506.80 L79.70,508.38 L81.35,510.24 L83.00,512.17 L84.65,513.98 L86.30,515.49 L87.95,516.52 L89.60,516.98 L91.25,516.82 L92.90,516.05 L94.55,514.76 L96.20,513.08 L97.85,511.18 L99.50,509.26 L101.15,507.52 L102.80,506.15 L104.45,505.28 L106.10,505.00 L107.75,505.35 L109.40,506.29 L111.05,507.72 L112.70,509.49 L114.35,511.41 L116.00,513.30 L117.65,514.94 L119.30,516.18 L120.95,516.87 L122.60,516.96 L124.25,516.42 L125.90,515.33 L127.55,513.78 L129.20,511.94 L130.85,510.00 L132.50,508.17 L134.15,506.63 L135.80,505.55 L137.45,505.03 L139.10,505.14 L140.75,505.85 L142.40,507.10 L144.05,508.76 L145.70,510.65 L147.35,512.57 L149.00,514.33 L150.65,515.75 L152.30,516.67 L153.95,517.00 L155.60,516.71 L157.25,515.82 L158.90,514.43 L160.55,512.69 L162.20,510.76 L163.85,508.87 L165.50,507.19 L167.15,505.92 L168.80,505.17 L170.45,505.02 L172.10,505.50 L173.75,506.55 L175.40,508.07 L177.05,509.89 L178.70,511.82 L180.35,513.67 L182.00,515.24 L183.65,516.37 L185.30,516.94 L186.95,516.90 L188.60,516.23 L190.25,515.03 L191.90,513.40 L193.55,511.53 L195.20,509.60 L196.85,507.81 L198.50,506.36 L200.15,505.39 L201.80,505.00 L203.45,505.24 L205.10,506.08 L206.75,507.43 L208.40,509.15 L210.05,511.06 L211.70,512.97 L213.35,514.67 L215.00,515.99 L216.65,516.79 L218.30,516.99 L219.95,516.57 L221.60,515.56 L223.25,514.08 L224.90,512.29 L226.55,510.35 L228.20,508.49 L229.85,506.88 L231.50,505.71 L233.15,505.08 L234.80,505.07 L236.45,505.68 L238.10,506.84 L239.75,508.43 L241.40,510.29 L243.05,512.23 L244.70,514.03 L246.35,515.52 L248.00,516.54" fill="none" stroke="#6f90dc" stroke-width="1.6"/>
<path d="M50.00,511.00 L51.65,509.09 L53.30,507.38 L54.95,506.04 L56.60,505.23 L58.25,505.01 L59.90,505.41 L61.55,506.40 L63.20,507.87 L64.85,509.66 L66.50,511.59 L68.15,513.46 L69.80,515.07 L71.45,516.26 L73.10,516.91 L74.75,516.94 L76.40,516.35 L78.05,515.20 L79.70,513.62 L81.35,511.76 L83.00,509.83 L84.65,508.02 L86.30,506.51 L87.95,505.48 L89.60,505.02 L91.25,505.18 L92.90,505.95 L94.55,507.24 L96.20,508.92 L97.85,510.82 L99.50,512.74 L101.15,514.48 L102.80,515.85 L104.45,516.72 L106.10,517.00 L107.75,516.65 L109.40,515.71 L111.05,514.28 L112.70,512.51 L114.35,510.59 L116.00,508.70 L117.65,507.06 L119.30,505.82 L120.95,505.13 L122.60,505.04 L124.25,505.58 L125.90,506.67 L127.55,508.22 L129.20,510.06 L130.85,512.00 L132.50,513.83 L134.15,515.37 L135.80,516.45 L137.45,516.97 L139.10,516.86 L140.75,516.15 L142.40,514.90 L144.05,513.24 L145.70,511.35 L147.35,509.43 L149.00,507.67 L150.65,506.25 L152.30,505.33 L153.95,505.00 L155.60,505.29 L157.25,506.18 L158.90,507.57 L160.55,509.31 L162.20,511.24 L163.85,513.13 L165.50,514.81 L167.15,516.08 L168.80,516.83 L170.45,516.98 L172.10,516.50 L173.75,515.45 L175.40,513.93 L177.05,512.11 L178.70,510.18 L180.35,508.33 L182.00,506.76 L183.65,505.63 L185.30,505.06 L186.95,505.10 L188.60,505.77 L190.25,506.97 L191.90,508.60 L193.55,510.47 L195.20,512.40 L196.85,514.19 L198.50,515.64 L200.15,516.61 L201.80,517.00 L203.45,516.76 L205.10,515.92 L206.75,514.57 L208.40,512.85 L210.05,510.94 L211.70,509.03 L213.35,507.33 L215.00,506.01 L216.65,505.21 L218.30,505.01 L219.95,505.43 L221.60,506.44 L223.25,507.92 L224.90,509.71 L226.55,511.65 L228.20,513.51 L229.85,515.12 L231.50,516.29 L233.15,516.92 L234.80,516.93 L236.45,516.32 L238.10,515.16 L239.75,513.57 L241.40,511.71 L243.05,509.77 L244.70,507.97 L246.35,506.48 L248.00,505.46" fill="none" stroke="#8a66c0" stroke-width="1.6"/>
<g filter="url(#sh2)"><ellipse cx="86" cy="368" rx="15.9" ry="7.7" fill="#2fa6dc"/></g>
<ellipse cx="86" cy="368" rx="15.9" ry="7.7" fill="url(#gl)"/>
<text x="86.00" y="367.27" font-size="4.4" text-anchor="middle" fill="#163c6a" font-weight="normal">TNFSF</text>
<text x="86.00" y="371.89" font-size="4.4" text-anchor="middle" fill="#163c6a" font-weight="normal">Receptor</text>
<g filter="url(#sh2)">
<path d="M66.2,376.6 L84.2,376.6 L88.2,381.7 L84.2,386.8 L66.2,386.8 Z" fill="#ea7890"/>
<path d="M86.2,376.6 L102.4,376.6 L102.4,386.8 L86.2,386.8 L90.2,381.7 Z" fill="#d0a8d8"/>
</g>
<text x="76.50" y="383.40" font-size="4.7" text-anchor="middle" fill="#5a2030" font-weight="normal">TRAF2</text>
<text x="96.00" y="383.40" font-size="4.7" text-anchor="middle" fill="#5a3a6a" font-weight="normal">TRAF</text>
<g filter="url(#sh2)"><ellipse cx="119.3" cy="376.7" rx="5.9" ry="15.3" fill="#e6dbef" stroke="#a585b8" stroke-width="0.6"/></g>
<ellipse cx="119.3" cy="376.7" rx="5.9" ry="15.3" fill="url(#gl)"/>
<text x="120.90" y="376.70" font-size="4.6" text-anchor="middle" fill="#5e3e72" font-weight="normal" transform="rotate(-90 120.90 376.70)">IGFR</text>
<g filter="url(#sh2)"><ellipse cx="132.8" cy="374.9" rx="5.9" ry="15.3" fill="#dccbe8" stroke="#a585b8" stroke-width="0.6"/></g>
<ellipse cx="132.8" cy="374.9" rx="5.9" ry="15.3" fill="url(#gl)"/>
<text x="134.40" y="374.90" font-size="4.6" text-anchor="middle" fill="#5e3e72" font-weight="normal" transform="rotate(-90 134.40 374.90)">EGFR</text>
<g filter="url(#sh2)"><ellipse cx="145.7" cy="373.0" rx="5.9" ry="15.3" fill="#cfb1dd" stroke="#a585b8" stroke-width="0.6"/></g>
<ellipse cx="145.7" cy="373.0" rx="5.9" ry="15.3" fill="url(#gl)"/>
<text x="147.30" y="373.00" font-size="4.6" text-anchor="middle" fill="#5e3e72" font-weight="normal" transform="rotate(-90 147.30 373.00)">HER2</text>
<g filter="url(#sh2)"><ellipse cx="158.3" cy="370.0" rx="5.9" ry="15.3" fill="#c59cd3" stroke="#a585b8" stroke-width="0.6"/></g>
<ellipse cx="158.3" cy="370.0" rx="5.9" ry="15.3" fill="url(#gl)"/>
<text x="159.90" y="370.00" font-size="4.6" text-anchor="middle" fill="#5e3e72" font-weight="normal" transform="rotate(-90 159.90 370.00)">HER3</text>
<g filter="url(#sh2)"><ellipse cx="190.8" cy="375.0" rx="7.8" ry="16.6" fill="#a9446c"/></g>
<ellipse cx="190.8" cy="375.0" rx="7.8" ry="16.6" fill="url(#gl)"/>
<text x="192.46" y="375.00" font-size="4.6" text-anchor="middle" fill="#4a1a2e" font-weight="normal" transform="rotate(-90 192.46 375.00)">WNT</text>
<g filter="url(#sh2)"><ellipse cx="215.3" cy="380" rx="6.1" ry="15.3" fill="#72ba8a"/></g>
<ellipse cx="215.3" cy="380" rx="6.1" ry="15.3" fill="url(#gl)"/>
<text x="216.96" y="380.00" font-size="4.6" text-anchor="middle" fill="#2f5a3a" font-weight="normal" transform="rotate(-90 216.96 380.00)">RTK</text>
<g filter="url(#sh2)"><ellipse cx="245.5" cy="388.7" rx="8.8" ry="8.8" fill="#a865c2"/></g>
<ellipse cx="245.5" cy="388.7" rx="8.8" ry="8.8" fill="url(#gl)"/>
<text x="245.50" y="390.28" font-size="4.4" text-anchor="middle" fill="#5a2a6a" font-weight="normal">RAS</text>
<line x1="85" y1="388" x2="85" y2="397.5" stroke="#111" stroke-width="1.05" marker-end="url(#ah)"/>
<g filter="url(#sh2)"><ellipse cx="85" cy="403.8" rx="14.5" ry="6.4" fill="#f1d77c"/></g>
<ellipse cx="85" cy="403.8" rx="14.5" ry="6.4" fill="url(#gl)"/>
<text x="85.00" y="405.53" font-size="4.8" text-anchor="middle" fill="#6a4a2a" font-weight="normal">NIK</text>
<g filter="url(#sh2)"><rect x="70.2" y="410.2" width="14" height="13" rx="4" fill="#d9c6ea"/></g>
<rect x="70.2" y="410.2" width="14" height="13" rx="4" fill="url(#gl)"/>
<text x="77.20" y="418.00" font-size="3.7" text-anchor="middle" fill="#5a4a6a" font-weight="normal">IKKα</text>
<g filter="url(#sh2)"><rect x="85.8" y="410.2" width="14" height="13" rx="4" fill="#d9c6ea"/></g>
<rect x="85.8" y="410.2" width="14" height="13" rx="4" fill="url(#gl)"/>
<text x="92.80" y="418.00" font-size="3.7" text-anchor="middle" fill="#5a4a6a" font-weight="normal">IKKα</text>
<line x1="85.5" y1="425" x2="85.5" y2="433.5" stroke="#111" stroke-width="1.05" marker-end="url(#ah)"/>
<g filter="url(#sh2)"><ellipse cx="85" cy="441" rx="14.6" ry="7.2" fill="#b65678"/></g>
<ellipse cx="85" cy="441" rx="14.6" ry="7.2" fill="url(#gl)"/>
<text x="85.00" y="442.73" font-size="4.8" text-anchor="middle" fill="#f8e0ea" font-weight="normal">P100</text>
<g filter="url(#sh2)"><circle cx="67.5" cy="435" r="4.6" fill="#eecb3c" stroke="#d0a828" stroke-width="0.4"/></g>
<circle cx="67.5" cy="435" r="4.6" fill="url(#gl)"/>
<text x="67.50" y="436.70" font-size="4.8" text-anchor="middle" fill="#6a4a10" font-weight="normal">P</text>
<line x1="85.5" y1="448.5" x2="85.5" y2="456" stroke="#111" stroke-width="1.05" marker-end="url(#ah)"/>
<g filter="url(#sh2)"><ellipse cx="82.5" cy="463.8" rx="15" ry="7.2" fill="#c46292"/></g>
<ellipse cx="82.5" cy="463.8" rx="15" ry="7.2" fill="url(#gl)"/>
<text x="82.50" y="465.53" font-size="4.8" text-anchor="middle" fill="#f8e0ea" font-weight="normal">P52</text>
<g filter="url(#sh2)"><ellipse cx="101" cy="470" rx="9" ry="6.2" fill="#f3a552"/></g>
<ellipse cx="101" cy="470" rx="9" ry="6.2" fill="url(#gl)"/>
<text x="101.00" y="471.73" font-size="4.8" text-anchor="middle" fill="#6a3a10" font-weight="normal">Rel</text>
<line x1="86" y1="475" x2="86" y2="482.5" stroke="#111" stroke-width="1.05" marker-end="url(#ah)"/>
<g filter="url(#sh2)"><ellipse cx="17" cy="421.5" rx="14.2" ry="6.6" fill="#c3d89a"/><ellipse cx="18" cy="415.3" rx="10" ry="6.4" fill="#d3e3b4"/></g>
<ellipse cx="18" cy="414.5" rx="7" ry="4" fill="#e8f0d8" opacity="0.6"/>
<text x="17.00" y="422.80" font-size="4.2" text-anchor="middle" fill="#6a7a4a" font-weight="normal">Ribosome</text>
<line x1="28.5" y1="414" x2="69.5" y2="404" stroke="#111" stroke-width="1.05" marker-end="url(#ah)"/>
<line x1="31" y1="422.5" x2="69.5" y2="443" stroke="#111" stroke-width="1.05" marker-end="url(#ah)"/>
<line x1="17" y1="445" x2="17" y2="430.5" stroke="#111" stroke-width="1.05" marker-end="url(#ah)"/>
<path d="M13.00,446.00 L14.45,445.15 L15.90,444.52 L17.35,444.17 L18.80,444.12 L20.25,444.38 L21.70,444.92 L23.15,445.70 L24.60,446.65 L26.05,447.67 L27.50,448.68 L28.95,449.58 L30.40,450.29 L31.85,450.74 L33.30,450.90 L34.75,450.75 L36.20,450.30 L37.65,449.59 L39.10,448.69 L40.55,447.69 L42.00,446.66 L43.45,445.72 L44.90,444.93 L46.35,444.38 L47.80,444.12 L49.25,444.17 L50.70,444.52 L52.15,445.14 L53.60,445.98 L55.05,446.96 L56.50,447.99 L57.95,448.97 L59.40,449.82 L60.85,450.46 L62.30,450.82 L63.75,450.89 L65.20,450.64 L66.65,450.10 L68.10,449.33 L69.55,448.39 L71.00,447.37" fill="none" stroke="#6ab48c" stroke-width="1.0"/>
<path d="M21.00,450.36 L22.07,450.58 L23.15,450.56 L24.23,450.30 L25.30,449.83 L26.38,449.16 L27.45,448.34 L28.52,447.44 L29.60,446.51 L30.68,445.61 L31.75,444.80 L32.83,444.14 L33.90,443.68 L34.98,443.43 L36.05,443.43 L37.12,443.66 L38.20,444.12 L39.27,444.77 L40.35,445.57 L41.42,446.47 L42.50,447.40 L43.58,448.31 L44.65,449.13 L45.73,449.80 L46.80,450.29 L47.88,450.55 L48.95,450.58 L50.02,450.37 L51.10,449.93 L52.17,449.29 L53.25,448.50 L54.33,447.61 L55.40,446.68 L56.48,445.77 L57.55,444.94 L58.62,444.25 L59.70,443.75 L60.77,443.46 L61.85,443.41 L62.92,443.60 L64.00,444.02" fill="none" stroke="#a07ab8" stroke-width="1.0"/>
<path d="M16.00,449.10 L17.38,449.82 L18.75,450.45 L20.12,450.96 L21.50,451.31 L22.88,451.48 L24.25,451.46 L25.62,451.25 L27.00,450.87 L28.38,450.33 L29.75,449.67 L31.12,448.94 L32.50,448.18 L33.88,447.44 L35.25,446.77 L36.62,446.21 L38.00,445.79 L39.38,445.56 L40.75,445.51 L42.12,445.65 L43.50,445.97 L44.88,446.46 L46.25,447.08 L47.62,447.79 L49.00,448.55 L50.38,449.30 L51.75,450.00 L53.12,450.60 L54.50,451.07 L55.88,451.38 L57.25,451.50 L58.62,451.43 L60.00,451.16 L61.38,450.73 L62.75,450.16 L64.12,449.48 L65.50,448.73 L66.88,447.97 L68.25,447.25 L69.62,446.60 L71.00,446.08" fill="none" stroke="#78bc98" stroke-width="1.0"/>
<text x="41.30" y="459.00" font-size="5.0" text-anchor="middle" fill="#5a4a66" font-weight="normal">MAP3K14 NFKB2</text>
<text x="41.30" y="466.00" font-size="5.0" text-anchor="middle" fill="#5a4a66" font-weight="normal">mRNA</text>
<g filter="url(#sh2)"><circle cx="128.5" cy="392.6" r="4.7" fill="#eecb3c" stroke="#d0a828" stroke-width="0.4"/></g>
<circle cx="128.5" cy="392.6" r="4.7" fill="url(#gl)"/>
<text x="128.50" y="394.30" font-size="4.8" text-anchor="middle" fill="#6a4a10" font-weight="normal">P</text>
<g filter="url(#sh2)"><circle cx="141.7" cy="390.6" r="4.7" fill="#eecb3c" stroke="#d0a828" stroke-width="0.4"/></g>
<circle cx="141.7" cy="390.6" r="4.7" fill="url(#gl)"/>
<text x="141.70" y="392.30" font-size="4.8" text-anchor="middle" fill="#6a4a10" font-weight="normal">P</text>
<g filter="url(#sh2)"><circle cx="154.4" cy="388.2" r="4.7" fill="#eecb3c" stroke="#d0a828" stroke-width="0.4"/></g>
<circle cx="154.4" cy="388.2" r="4.7" fill="url(#gl)"/>
<text x="154.40" y="389.90" font-size="4.8" text-anchor="middle" fill="#6a4a10" font-weight="normal">P</text>
<g filter="url(#sh2)"><ellipse cx="128.2" cy="408.6" rx="13.6" ry="7.1" fill="#82a5b6"/></g>
<ellipse cx="128.2" cy="408.6" rx="13.6" ry="7.1" fill="url(#gl)"/>
<text x="128.20" y="410.33" font-size="4.8" text-anchor="middle" fill="#3a4a5e" font-weight="normal">IRS1</text>
<g filter="url(#sh2)">
<rect x="142.00" y="404.50" width="18.00" height="8.50" fill="#f1cd6c"/>
<rect x="145.00" y="414.50" width="18.80" height="9.20" fill="#f1cd6c"/>
</g>
<text x="151.00" y="410.30" font-size="4.3" text-anchor="middle" fill="#7a5a20" font-weight="normal">P85</text>
<text x="154.40" y="420.60" font-size="4.3" text-anchor="middle" fill="#7a5a20" font-weight="normal">P110</text>
<line x1="139.2" y1="401.8" x2="135.2" y2="396.6" stroke="#111" stroke-width="1.05" marker-end="url(#ah)"/>
<line x1="148.6" y1="394.2" x2="131.2" y2="430.8" stroke="#111" stroke-width="1.05" marker-end="url(#ah)" marker-start="url(#ah)"/>
<g filter="url(#sh2)"><circle cx="123.5" cy="427.1" r="4.7" fill="#eecb3c" stroke="#d0a828" stroke-width="0.4"/></g>
<circle cx="123.5" cy="427.1" r="4.7" fill="url(#gl)"/>
<text x="123.50" y="428.80" font-size="4.8" text-anchor="middle" fill="#6a4a10" font-weight="normal">P</text>
<g filter="url(#sh2)"><ellipse cx="129.5" cy="440.3" rx="14.5" ry="7.7" fill="#f28cab"/></g>
<ellipse cx="129.5" cy="440.3" rx="14.5" ry="7.7" fill="url(#gl)"/>
<text x="129.50" y="442.10" font-size="5.0" text-anchor="middle" fill="#5a3040" font-weight="normal">AKT</text>
<line x1="135" y1="448.5" x2="144" y2="459.5" stroke="#111" stroke-width="1.05" marker-end="url(#ah)"/>
<g filter="url(#sh2)"><circle cx="160.6" cy="443.3" r="4.8" fill="#eecb3c" stroke="#d0a828" stroke-width="0.4"/></g>
<circle cx="160.6" cy="443.3" r="4.8" fill="url(#gl)"/>
<text x="160.60" y="445.00" font-size="4.8" text-anchor="middle" fill="#6a4a10" font-weight="normal">P</text>
<g filter="url(#sh2)"><ellipse cx="157.5" cy="455.9" rx="13.8" ry="7.9" fill="#bcdb92"/></g>
<ellipse cx="157.5" cy="455.9" rx="13.8" ry="7.9" fill="url(#gl)"/>
<text x="157.50" y="457.63" font-size="4.8" text-anchor="middle" fill="#3a4a2a" font-weight="normal">GSK-3β</text>
<g filter="url(#sh2)"><ellipse cx="150.6" cy="471.3" rx="14.4" ry="7.5" fill="#8eaae2"/></g>
<ellipse cx="150.6" cy="471.3" rx="14.4" ry="7.5" fill="url(#gl)"/>
<text x="150.60" y="472.92" font-size="4.5" text-anchor="middle" fill="#24367a" font-weight="normal">β-catenin</text>
<g filter="url(#sh2)"><ellipse cx="204.1" cy="415.6" rx="13.2" ry="7.8" fill="#79b992"/></g>
<ellipse cx="204.1" cy="415.6" rx="13.2" ry="7.8" fill="url(#gl)"/>
<text x="204.10" y="417.33" font-size="4.8" text-anchor="middle" fill="#2a4a34" font-weight="normal">CDK12</text>
<g filter="url(#sh2)"><ellipse cx="231.6" cy="421.5" rx="14.9" ry="7.4" fill="#f7d9a2"/></g>
<ellipse cx="231.6" cy="421.5" rx="14.9" ry="7.4" fill="url(#gl)"/>
<text x="231.60" y="423.23" font-size="4.8" text-anchor="middle" fill="#6a4a2a" font-weight="normal">PAK2</text>
<g filter="url(#sh2)"><circle cx="228" cy="409.8" r="4.7" fill="#eecb3c" stroke="#d0a828" stroke-width="0.4"/></g>
<circle cx="228" cy="409.8" r="4.7" fill="url(#gl)"/>
<text x="228.00" y="411.50" font-size="4.8" text-anchor="middle" fill="#6a4a10" font-weight="normal">P</text>
<line x1="217.6" y1="427" x2="217.6" y2="437.6" stroke="#111" stroke-width="1.05" marker-end="url(#ah)"/>
<g filter="url(#sh2)"><circle cx="206.6" cy="435" r="4.7" fill="#eecb3c" stroke="#d0a828" stroke-width="0.4"/></g>
<circle cx="206.6" cy="435" r="4.7" fill="url(#gl)"/>
<text x="206.60" y="436.70" font-size="4.8" text-anchor="middle" fill="#6a4a10" font-weight="normal">P</text>
<g filter="url(#sh2)"><ellipse cx="216.8" cy="446" rx="14.2" ry="7.3" fill="#ede59c"/></g>
<ellipse cx="216.8" cy="446" rx="14.2" ry="7.3" fill="url(#gl)"/>
<text x="216.80" y="447.73" font-size="4.8" text-anchor="middle" fill="#6a5a2a" font-weight="normal">MEK</text>
<line x1="217.6" y1="453.5" x2="217.6" y2="464.2" stroke="#111" stroke-width="1.05" marker-end="url(#ah)"/>
<g filter="url(#sh2)"><circle cx="206.6" cy="461.8" r="4.7" fill="#eecb3c" stroke="#d0a828" stroke-width="0.4"/></g>
<circle cx="206.6" cy="461.8" r="4.7" fill="url(#gl)"/>
<text x="206.60" y="463.50" font-size="4.8" text-anchor="middle" fill="#6a4a10" font-weight="normal">P</text>
<g filter="url(#sh2)"><ellipse cx="216" cy="472" rx="14.2" ry="7.5" fill="#e2604e"/></g>
<ellipse cx="216" cy="472" rx="14.2" ry="7.5" fill="url(#gl)"/>
<text x="216.00" y="473.73" font-size="4.8" text-anchor="middle" fill="#7a2a20" font-weight="normal">ERK</text>
<g filter="url(#sh2)"><ellipse cx="45.4" cy="501.1" rx="9.6" ry="5.7" fill="#f27ea0"/></g>
<ellipse cx="45.4" cy="501.1" rx="9.6" ry="5.7" fill="url(#gl)"/>
<text x="45.40" y="502.76" font-size="4.6" text-anchor="middle" fill="#6a2a3a" font-weight="normal">CCNK</text>
<g filter="url(#sh2)"><circle cx="64.5" cy="499.5" r="4.6" fill="#eecb3c" stroke="#d0a828" stroke-width="0.4"/></g>
<circle cx="64.5" cy="499.5" r="4.6" fill="url(#gl)"/>
<text x="64.50" y="501.20" font-size="4.8" text-anchor="middle" fill="#6a4a10" font-weight="normal">P</text>
<g filter="url(#sh2)"><ellipse cx="40" cy="513.8" rx="13" ry="6.6" fill="#86c59c"/></g>
<ellipse cx="40" cy="513.8" rx="13" ry="6.6" fill="url(#gl)"/>
<text x="40.00" y="515.49" font-size="4.7" text-anchor="middle" fill="#2a4a34" font-weight="normal">CDK12</text>
<g filter="url(#sh2)"><ellipse cx="73.8" cy="508.2" rx="16.5" ry="8.8" fill="#a3dbd2" transform="rotate(-50 73.8 508.2)"/></g>
<ellipse cx="73.8" cy="508.2" rx="16.5" ry="8.8" fill="url(#gl)" transform="rotate(-50 73.8 508.2)"/>
<text x="74.60" y="509.60" font-size="4.8" text-anchor="middle" fill="#2a5a5a" font-weight="normal" transform="rotate(-50 74.60 509.60)">RNA POLII</text>
<g filter="url(#sh2)"><rect x="79" y="518.8" width="23.5" height="7.6" fill="#74c184" stroke="#f4f0f0" stroke-width="0.6"/></g>
<text x="90.75" y="524.04" font-size="4.0" text-anchor="middle" fill="#1f4a2a" font-weight="normal">MAP3K14</text>
<g filter="url(#sh2)"><rect x="102.5" y="518.8" width="18.5" height="7.6" fill="#7b9bd8" stroke="#f4f0f0" stroke-width="0.6"/></g>
<text x="111.75" y="524.04" font-size="4.0" text-anchor="middle" fill="#eef" font-weight="normal">NFKB2</text>
<g filter="url(#sh2)"><rect x="128.8" y="512.5" width="13.2" height="8.8" fill="#f4e4a4" stroke="#f4f0f0" stroke-width="0.6"/></g>
<text x="135.40" y="518.41" font-size="4.2" text-anchor="middle" fill="#6a4a20" font-weight="normal">IRS1</text>
<g filter="url(#sh2)"><rect x="142" y="516.3" width="13.5" height="8.7" fill="#b98ad0" stroke="#f4f0f0" stroke-width="0.6"/></g>
<text x="148.75" y="522.16" font-size="4.2" text-anchor="middle" fill="#f4e8f8" font-weight="normal">WNT</text>
<g filter="url(#sh2)"><ellipse cx="171.3" cy="514.5" rx="14" ry="7" fill="#86c59c"/></g>
<ellipse cx="171.3" cy="514.5" rx="14" ry="7" fill="url(#gl)"/>
<text x="171.30" y="516.23" font-size="4.8" text-anchor="middle" fill="#2a4a34" font-weight="normal">CDK12</text>
<g filter="url(#sh2)"><ellipse cx="196.3" cy="515.5" rx="12.6" ry="6.6" fill="#f8e2aa"/></g>
<ellipse cx="196.3" cy="515.5" rx="12.6" ry="6.6" fill="url(#gl)"/>
<text x="196.30" y="517.23" font-size="4.8" text-anchor="middle" fill="#6a4a2a" font-weight="normal">PAK2</text>
<g filter="url(#sh2)"><circle cx="193" cy="506.3" r="4.7" fill="#eecb3c" stroke="#d0a828" stroke-width="0.4"/></g>
<circle cx="193" cy="506.3" r="4.7" fill="url(#gl)"/>
<text x="193.00" y="508.00" font-size="4.8" text-anchor="middle" fill="#6a4a10" font-weight="normal">P</text>
<g filter="url(#sh2)">
<rect x="208.20" y="508.40" width="46.70" height="15.60" fill="#f7b9aa" stroke="#fbe4de" stroke-width="0.6"/>
</g>
<text x="210.30" y="514.80" font-size="4.6" text-anchor="start" fill="#6a3030" font-weight="normal">Gene expression</text>
<text x="210.30" y="521.30" font-size="4.6" text-anchor="start" fill="#6a3030" font-weight="normal">MYC, NF-κB, etc</text>
<line x1="186.3" y1="393.5" x2="169.2" y2="445.5" stroke="#111" stroke-width="1.05" marker-end="url(#ah)"/>
<line x1="154" y1="517" x2="190.2" y2="393.8" stroke="#111" stroke-width="1.05" marker-end="url(#ah)"/>
<line x1="219.4" y1="480" x2="231.5" y2="503.3" stroke="#111" stroke-width="1.05" marker-end="url(#ah)"/>
<line x1="107.5" y1="516" x2="52.8" y2="469.2" stroke="#111" stroke-width="1.05" marker-end="url(#ah)"/>
<g filter="url(#sh)"><rect x="284.9" y="351.7" width="78.60" height="19.50" fill="#458f56"/></g>
<text x="324.20" y="363.39" font-size="5.4" text-anchor="middle" fill="#dcf0dc" font-weight="normal" textLength="23.90" lengthAdjust="spacingAndGlyphs">Biomarker</text>
<g filter="url(#sh)"><rect x="284.9" y="382.8" width="78.60" height="19.50" fill="#458f56"/></g>
<text x="324.20" y="391.31" font-size="5.4" text-anchor="middle" fill="#dcf0dc" font-weight="normal" textLength="48.30" lengthAdjust="spacingAndGlyphs">Mutation or deletion</text>
<text x="324.20" y="397.68" font-size="5.4" text-anchor="middle" fill="#dcf0dc" font-weight="normal" textLength="41.60" lengthAdjust="spacingAndGlyphs">(Loss of function)</text>
<g filter="url(#sh)"><rect x="275.2" y="414.0" width="97.90" height="19.50" fill="#458f56"/></g>
<text x="324.15" y="422.55" font-size="5.2" text-anchor="middle" fill="#dcf0dc" font-weight="normal" textLength="67.00" lengthAdjust="spacingAndGlyphs">DDR (DNA damage response)</text>
<text x="324.15" y="428.69" font-size="5.2" text-anchor="middle" fill="#dcf0dc" font-weight="normal" textLength="92.00" lengthAdjust="spacingAndGlyphs">HR (Homologous recombination repair)</text>
<g filter="url(#sh)"><rect x="284.9" y="446.1" width="78.60" height="19.70" fill="#458f56"/></g>
<text x="324.20" y="457.89" font-size="5.4" text-anchor="middle" fill="#dcf0dc" font-weight="normal" textLength="45.50" lengthAdjust="spacingAndGlyphs">Genomic instability</text>
<g filter="url(#sh)"><rect x="284.9" y="478.0" width="78.60" height="20.00" fill="#458f56"/></g>
<text x="324.20" y="486.76" font-size="5.4" text-anchor="middle" fill="#dcf0dc" font-weight="normal" textLength="55.40" lengthAdjust="spacingAndGlyphs">Onset of tumorigenesis</text>
<text x="324.20" y="493.13" font-size="5.4" text-anchor="middle" fill="#dcf0dc" font-weight="normal" textLength="41.00" lengthAdjust="spacingAndGlyphs">(HGSOC, mCRPC)</text>
<g filter="url(#sh)"><rect x="284.9" y="510.0" width="78.60" height="18.60" fill="#458f56"/></g>
<text x="324.20" y="521.24" font-size="5.4" text-anchor="middle" fill="#dcf0dc" font-weight="normal" textLength="53.00" lengthAdjust="spacingAndGlyphs">PARPi, immunotherapy</text>
<line x1="323.8" y1="371.2" x2="323.8" y2="382.5" stroke="#111" stroke-width="1.0" marker-end="url(#ah)"/>
<text x="326.40" y="378.80" font-size="5.3" text-anchor="start" fill="#333" font-weight="normal">Status</text>
<line x1="323.8" y1="402.3" x2="323.8" y2="413.7" stroke="#111" stroke-width="1.0" marker-end="url(#ah)"/>
<text x="326.40" y="409.95" font-size="5.3" text-anchor="start" fill="#333" font-weight="normal">Mechanism</text>
<line x1="323.8" y1="433.5" x2="323.8" y2="445.8" stroke="#111" stroke-width="1.0" marker-end="url(#ah)"/>
<text x="326.40" y="441.60" font-size="5.3" text-anchor="start" fill="#333" font-weight="normal">Result</text>
<line x1="323.8" y1="465.8" x2="323.8" y2="477.7" stroke="#111" stroke-width="1.0" marker-end="url(#ah)"/>
<text x="326.40" y="473.70" font-size="5.3" text-anchor="start" fill="#333" font-weight="normal">Contribution</text>
<line x1="323.8" y1="498.0" x2="323.8" y2="509.7" stroke="#111" stroke-width="1.0" marker-end="url(#ah)"/>
<text x="326.40" y="505.80" font-size="5.3" text-anchor="start" fill="#333" font-weight="normal">Therapeutic strategy</text>
<g filter="url(#sh)"><rect x="426.0" y="351.7" width="79.00" height="19.50" fill="#c8171d"/></g>
<text x="465.50" y="363.39" font-size="5.4" text-anchor="middle" fill="#fcdede" font-weight="normal" textLength="43.40" lengthAdjust="spacingAndGlyphs">Therapeutic target</text>
<g filter="url(#sh)"><rect x="426.0" y="382.8" width="79.00" height="19.50" fill="#c8171d"/></g>
<text x="465.50" y="391.31" font-size="5.4" text-anchor="middle" fill="#fcdede" font-weight="normal" textLength="65.00" lengthAdjust="spacingAndGlyphs">Copy number amplification</text>
<text x="465.50" y="397.68" font-size="5.4" text-anchor="middle" fill="#fcdede" font-weight="normal" textLength="36.30" lengthAdjust="spacingAndGlyphs">Overexpression</text>
<g filter="url(#sh)"><rect x="418.7" y="414.0" width="93.50" height="19.50" fill="#c8171d"/></g>
<text x="465.45" y="422.51" font-size="5.4" text-anchor="middle" fill="#fcdede" font-weight="normal" textLength="83.00" lengthAdjust="spacingAndGlyphs">Up-regulated oncogene expression</text>
<text x="465.45" y="428.88" font-size="5.4" text-anchor="middle" fill="#fcdede" font-weight="normal" textLength="78.40" lengthAdjust="spacingAndGlyphs">Oncogenic transcription cascades</text>
<g filter="url(#sh)"><rect x="426.0" y="446.1" width="78.40" height="19.70" fill="#c8171d"/></g>
<text x="465.20" y="457.89" font-size="5.4" text-anchor="middle" fill="#fcdede" font-weight="normal" textLength="72.70" lengthAdjust="spacingAndGlyphs">Oncogenic cascades activation</text>
<g filter="url(#sh)"><rect x="426.0" y="477.5" width="78.40" height="23.10" fill="#c8171d"/></g>
<text x="465.20" y="484.70" font-size="5.3" text-anchor="middle" fill="#fcdede" font-weight="normal" textLength="67.80" lengthAdjust="spacingAndGlyphs">Progression in tumorigenesis</text>
<text x="465.20" y="490.96" font-size="5.3" text-anchor="middle" fill="#fcdede" font-weight="normal" textLength="68.90" lengthAdjust="spacingAndGlyphs">(HER2-positive BC, GC, HCC)</text>
<text x="465.20" y="497.21" font-size="5.3" text-anchor="middle" fill="#fcdede" font-weight="normal" textLength="54.40" lengthAdjust="spacingAndGlyphs">(BRCA mutant cancer)</text>
<g filter="url(#sh)"><rect x="426.0" y="512.6" width="78.40" height="19.20" fill="#c8171d"/></g>
<text x="465.20" y="524.14" font-size="5.4" text-anchor="middle" fill="#fcdede" font-weight="normal" textLength="36.20" lengthAdjust="spacingAndGlyphs">CDK12 inhibitor</text>
<line x1="465.5" y1="371.2" x2="465.5" y2="382.5" stroke="#111" stroke-width="1.0" marker-end="url(#ah)"/>
<text x="468.10" y="378.80" font-size="5.3" text-anchor="start" fill="#333" font-weight="normal">Status</text>
<line x1="465.5" y1="402.3" x2="465.5" y2="413.7" stroke="#111" stroke-width="1.0" marker-end="url(#ah)"/>
<text x="468.10" y="409.95" font-size="5.3" text-anchor="start" fill="#333" font-weight="normal">Mechanism</text>
<line x1="465.5" y1="433.5" x2="465.5" y2="445.8" stroke="#111" stroke-width="1.0" marker-end="url(#ah)"/>
<text x="468.10" y="441.60" font-size="5.3" text-anchor="start" fill="#333" font-weight="normal">Result</text>
<line x1="465.5" y1="465.8" x2="465.5" y2="477.2" stroke="#111" stroke-width="1.0" marker-end="url(#ah)"/>
<text x="468.10" y="473.45" font-size="5.3" text-anchor="start" fill="#333" font-weight="normal">Contribution</text>
<line x1="465.5" y1="500.6" x2="465.5" y2="512.3000000000001" stroke="#111" stroke-width="1.0" marker-end="url(#ah)"/>
<text x="468.10" y="508.40" font-size="5.3" text-anchor="start" fill="#333" font-weight="normal">Therapeutic strategy</text>
<g filter="url(#sh)"><path d="M363.5,376.9 L391.9,348.5 L425,376.9 L404.2,376.9 L392.7,367.7 L381.2,376.9 Z" fill="#9c48ae"/></g>
<text x="393.60" y="361.20" font-size="4.5" text-anchor="middle" fill="#f4e4f8" font-weight="normal">CDK12</text>
<g filter="url(#sh)"><path d="M379.9,377.3 L394.2,377.3 L393.6,509.5 Z" fill="#458f56"/><path d="M394.2,377.3 L408.8,377.3 L393.6,509.5 Z" fill="#c8171d"/></g>
<g filter="url(#sh)"><rect x="374.7" y="509.2" width="39.5" height="13.7" fill="#e9b624"/></g>
<text x="394.60" y="518.80" font-size="5.2" text-anchor="middle" fill="#5a4010" font-weight="normal" textLength="31.80" lengthAdjust="spacingAndGlyphs">What else ???</text>
</svg>
</body></html>
